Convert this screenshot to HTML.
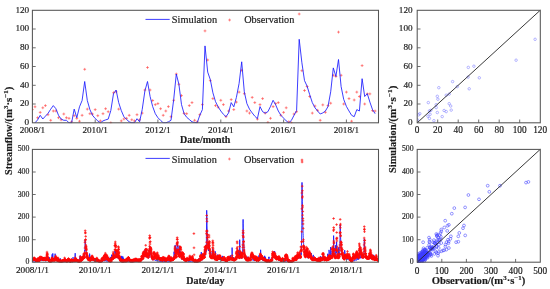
<!DOCTYPE html>
<html><head><meta charset="utf-8"><title>Streamflow simulation and observation</title>
<style>html,body{margin:0;padding:0;background:#fff}svg{display:block}text{font-family:"Liberation Serif",serif;fill:#1c1c1c;stroke:#1c1c1c;stroke-width:0.18px}</style></head>
<body>
<svg width="550" height="289" viewBox="0 0 550 289">
<rect width="550" height="289" fill="#fff"/>
<defs>
<marker id="pl" markerWidth="4" markerHeight="4" refX="2" refY="2" markerUnits="userSpaceOnUse"><path d="M0.6 2H3.4M2 0.6V3.4" stroke="#ff4040" stroke-width="0.6" fill="none"/></marker>
<marker id="pd" markerWidth="4" markerHeight="4" refX="2" refY="2" markerUnits="userSpaceOnUse"><path d="M0.7 2H3.3M2 0.7V3.3" stroke="#ff0a0a" stroke-width="0.7" fill="none"/></marker>
<marker id="c1" markerWidth="5" markerHeight="5" refX="2.5" refY="2.5" markerUnits="userSpaceOnUse"><circle cx="2.5" cy="2.5" r="1.25" stroke="#7070ff" stroke-width="0.5" fill="none"/></marker>
<marker id="c2" markerWidth="5" markerHeight="5" refX="2.5" refY="2.5" markerUnits="userSpaceOnUse"><circle cx="2.5" cy="2.5" r="1.4" stroke="#4040ff" stroke-width="0.55" fill="none"/></marker>
</defs>
<clipPath id="k1"><rect x="32.4" y="10.3" width="346.1" height="112.9"/></clipPath>
<clipPath id="k2"><rect x="32.4" y="149.4" width="346.1" height="113.2"/></clipPath>
<clipPath id="k3"><rect x="417.2" y="10.3" width="123.1" height="112.9"/></clipPath>
<clipPath id="k4"><rect x="417.2" y="149.4" width="123.1" height="113.2"/></clipPath>
<g clip-path="url(#k1)"><polyline points="32.4,109.6 35,106.8 37.6,117.7 40.2,112.4 42.8,107.8 45.4,105.6 48,114.7 50.7,120.3 53.3,111 55.9,111 58.5,117.7 61.1,119.8 63.8,114 66.4,117.7 69,118.3 71.6,121.8 74.2,115.7 76.8,118.3 79.5,121.2 82.1,115.3 84.7,69.3 87.3,109.1 89.9,113.7 92.5,114 95.2,109.6 97.8,115.7 100.4,120.9 103,113.7 105.6,108.7 108.2,111.7 110.8,122.8 113.5,92.8 116.1,91.8 118.7,109.1 121.3,120.9 123.9,119 126.6,118.3 129.2,115.3 131.8,119.8 134.4,120.9 137,114.7 139.6,119.8 142.2,113.1 144.9,90 147.5,67.5 150.1,90 152.7,100.5 155.3,104.6 157.9,103.6 160.6,108.7 163.2,115.3 165.8,111 168.4,106.6 171,116.7 173.7,100.3 176.3,74 178.9,84.3 181.5,95.6 184.1,113.4 186.7,113.7 189.3,105.6 192,102.6 194.6,120.3 197.2,121.8 199.8,114.7 202.4,104.6 205,30.9 207.7,60 210.3,80.6 212.9,98.6 215.5,105.6 218.1,107.2 220.8,100.3 223.4,104.6 226,116.7 228.6,111 231.2,99.6 233.8,109.6 236.4,102.1 239.1,92.1 241.7,70.3 244.3,93.7 246.9,111 249.5,113.1 252.2,97.4 254.8,102.6 257.4,119.1 260,104.6 262.6,98.6 265.2,113.1 267.9,122.4 270.5,118.3 273.1,106.6 275.7,103.6 278.3,102.6 280.9,115.3 283.6,112.4 286.2,107.8 288.8,121.8 291.4,122.8 294,114 296.6,111.7 299.2,14 301.9,70.7 304.5,90.5 307.1,86.5 309.7,96.5 312.3,113.1 315,106 317.6,110.3 320.2,120.3 322.8,104.9 325.4,112.3 328,105.6 330.7,103.2 333.3,75.3 335.9,76.4 338.5,32.1 341.1,75.3 343.7,104 346.4,92.1 349,98.6 351.6,121.2 354.2,100 356.8,92.1 359.4,96.5 362.1,65.6 364.7,104 367.3,93.9 369.9,93.9 372.5,110.6 375.1,111" fill="none" stroke="none" marker-start="url(#pl)" marker-mid="url(#pl)" marker-end="url(#pl)"/>
<polyline points="35,122.8 37.6,119.9 40.2,115.3 42.8,119 45.4,116.2 48,113.4 50.7,109.2 53.3,105.6 55.9,108.7 58.5,115.3 61.1,119 63.8,120.3 66.4,120.3 69,122.8 71.6,122.8 74.2,109.1 76.8,117.7 79.5,106.8 82.1,100.5 84.7,81.5 87.3,100.5 89.9,109.6 92.5,115.3 95.2,118.5 97.8,120.9 100.4,122.8 103,120.9 105.6,119.9 108.2,119.1 110.8,110.6 113.5,93.7 116.1,90 118.7,102.6 121.3,110.6 123.9,116.7 126.6,119.5 129.2,121.8 131.8,122.8 134.4,122.8 137,118.7 139.6,121.8 142.2,109.6 144.9,90.9 147.5,81.5 150.1,96.5 152.7,106.6 155.3,113.7 157.9,117.7 160.6,120.4 163.2,122.8 165.8,122.8 168.4,121.8 171,120.3 173.7,99.6 176.3,74 178.9,84.3 181.5,104.6 184.1,113.7 186.7,117.3 189.3,119.5 192,121.8 194.6,122.5 197.2,122.8 199.8,115.3 202.4,109.6 205,45.9 207.7,72.1 210.3,79.6 212.9,92.8 215.5,101.6 218.1,106.8 220.8,111 223.4,114.3 226,116.7 228.6,112.9 231.2,102.6 233.8,106.8 236.4,97.4 239.1,83.4 241.7,61.8 244.3,91.8 246.9,103.6 249.5,109.2 252.2,112.9 254.8,116.2 257.4,118.7 260,106.6 262.6,111.7 265.2,113.1 267.9,111.7 270.5,106.4 273.1,100.3 275.7,104.9 278.3,111 280.9,115.3 283.6,118.1 286.2,120.9 288.8,122.8 291.4,120.4 294,115.3 296.6,110.6 299.2,39.3 301.9,62.8 304.5,80.6 307.1,86.2 309.7,94.6 312.3,102.6 315,107.8 317.6,111 320.2,114 322.8,112.9 325.4,111 328,106.6 330.7,91.8 333.3,67.9 335.9,76.4 338.5,59.5 341.1,86.5 343.7,99.3 346.4,106.4 349,111 351.6,115.3 354.2,116.7 356.8,109.6 359.4,111 362.1,78.7 364.7,96.5 367.3,93.7 369.9,102.1 372.5,109.6 375.1,113.7" fill="none" stroke="#1a1aff" stroke-width="0.85" stroke-linejoin="round"/></g>
<rect x="32.4" y="10.3" width="346.1" height="112.5" fill="none" stroke="#555" stroke-width="1.05"/>
<text x="29.2" y="125" font-size="9.2" text-anchor="end">0</text>
<text x="29.2" y="106.2" font-size="9.2" text-anchor="end">20</text>
<text x="29.2" y="87.5" font-size="9.2" text-anchor="end">40</text>
<text x="29.2" y="68.7" font-size="9.2" text-anchor="end">60</text>
<text x="29.2" y="50" font-size="9.2" text-anchor="end">80</text>
<text x="29.2" y="31.2" font-size="9.2" text-anchor="end">100</text>
<text x="29.2" y="12.5" font-size="9.2" text-anchor="end">120</text>
<text x="32.4" y="132.6" font-size="9.2" text-anchor="middle" textLength="25.5" lengthAdjust="spacingAndGlyphs">2008/1</text>
<text x="95.2" y="132.6" font-size="9.2" text-anchor="middle" textLength="25.5" lengthAdjust="spacingAndGlyphs">2010/1</text>
<text x="157.9" y="132.6" font-size="9.2" text-anchor="middle" textLength="25.5" lengthAdjust="spacingAndGlyphs">2012/1</text>
<text x="220.8" y="132.6" font-size="9.2" text-anchor="middle" textLength="25.5" lengthAdjust="spacingAndGlyphs">2014/1</text>
<text x="283.6" y="132.6" font-size="9.2" text-anchor="middle" textLength="25.5" lengthAdjust="spacingAndGlyphs">2016/1</text>
<text x="346.4" y="132.6" font-size="9.2" text-anchor="middle" textLength="25.5" lengthAdjust="spacingAndGlyphs">2018/1</text>
<path d="M32.4 104h3.3M32.4 85.3h3.3M32.4 66.5h3.3M32.4 47.8h3.3M32.4 29h3.3M95.2 122.8v-3.3M157.9 122.8v-3.3M220.8 122.8v-3.3M283.6 122.8v-3.3M346.4 122.8v-3.3" stroke="#555" stroke-width="0.85" fill="none"/>
<text x="205.2" y="143.3" font-size="10" text-anchor="middle" textLength="50.5" lengthAdjust="spacingAndGlyphs" font-weight="bold" fill="#000" stroke="#000">Date/month</text>
<path d="M145.5 19.4H169.7" stroke="#1a1aff" stroke-width="0.85"/>
<text x="171.8" y="23.3" font-size="10" textLength="45.4" lengthAdjust="spacingAndGlyphs">Simulation</text>
<path d="M228.2 20H231M229.6 18.6V21.4" stroke="#ff4040" stroke-width="0.6"/>
<text x="244.2" y="23.3" font-size="10" textLength="50.2" lengthAdjust="spacingAndGlyphs">Observation</text>
<g clip-path="url(#k2)"><polyline points="32.4,261.9 32.4,261.9 32.5,261.9 32.6,261.8 32.7,261.8 32.8,261.8 32.9,261.9 33,261.9 33,261.9 33.1,261.9 33.2,261.9 33.3,261.9 33.4,261.9 33.5,261.9 33.6,261.9 33.6,261.9 33.7,261.9 33.8,261.9 33.9,261.9 34,261.9 34.1,261.9 34.2,261.9 34.2,261.9 34.3,261.9 34.4,261.9 34.5,261.9 34.6,261.9 34.7,261.9 34.8,261.9 34.8,261.9 34.9,261.9 35,261.9 35.1,261.9 35.2,261.9 35.3,261.9 35.4,261.7 35.4,261.6 35.5,261.6 35.6,261.6 35.7,261.7 35.8,261.7 35.9,261.7 36,261.7 36,261.7 36.1,261.7 36.2,260.9 36.3,260.4 36.4,260.8 36.5,261.1 36.6,261.3 36.6,261.5 36.7,261.5 36.8,261.6 36.9,261.6 37,261.6 37.1,261.5 37.2,261.4 37.3,261.5 37.3,261.5 37.4,261.2 37.5,261 37.6,261 37.7,261.1 37.8,261.1 37.9,261.1 37.9,261.2 38,261.2 38.1,261.2 38.2,261.2 38.3,261.1 38.4,261.2 38.5,261.1 38.5,260.7 38.6,260.3 38.7,260.4 38.8,260.5 38.9,260.6 39,260.6 39.1,260.7 39.1,260.7 39.2,260.8 39.3,260.8 39.4,260.8 39.5,260.8 39.6,260.9 39.7,260.9 39.7,260.9 39.8,260.9 39.9,260.9 40,260.9 40.1,260.9 40.2,259.7 40.3,258.7 40.3,259.1 40.4,259.3 40.5,259.6 40.6,258.6 40.7,257.7 40.8,257.9 40.9,258 40.9,258.3 41,258.7 41.1,259.1 41.2,259.4 41.3,259.7 41.4,259.9 41.5,260.1 41.5,260.3 41.6,260.4 41.7,260.6 41.8,260.7 41.9,260.8 42,259.6 42.1,258.4 42.2,258.8 42.2,259.6 42.3,260.2 42.4,260.6 42.5,260.9 42.6,261 42.7,260.3 42.8,259.1 42.8,259 42.9,259.4 43,259.8 43.1,260.1 43.2,260.3 43.3,260.5 43.4,260.6 43.4,260.7 43.5,260.8 43.6,260.8 43.7,260.8 43.8,260.9 43.9,260.9 44,259.6 44,258.7 44.1,259.5 44.2,260 44.3,260.2 44.4,260.2 44.5,260.4 44.6,260.5 44.6,260.6 44.7,260.7 44.8,260.8 44.9,260.8 45,260.9 45.1,260.9 45.2,260.9 45.2,260.9 45.3,260.9 45.4,260.9 45.5,261 45.6,261 45.7,261 45.8,261 45.8,261 45.9,261 46,261 46.1,261 46.2,260.9 46.3,259.3 46.4,258.4 46.4,259.4 46.5,259.9 46.6,260.3 46.7,260.5 46.8,260 46.9,259.2 47,258.2 47.1,258 47.1,257.3 47.2,258.4 47.3,259.1 47.4,259.6 47.5,259.9 47.6,260.1 47.7,260.2 47.7,259.7 47.8,259.3 47.9,259.4 48,259.6 48.1,259.7 48.2,259.9 48.3,259.4 48.3,258.8 48.4,258.7 48.5,258.9 48.6,259.1 48.7,259.3 48.8,259.4 48.9,259.6 48.9,259.7 49,259.8 49.1,259.9 49.2,259.9 49.3,260 49.4,258.4 49.5,257.4 49.5,258.5 49.6,259.2 49.7,259.6 49.8,259.8 49.9,260 50,260.1 50.1,260.2 50.1,260.2 50.2,260.2 50.3,260.2 50.4,260.2 50.5,260.2 50.6,260.2 50.7,260.2 50.7,260.2 50.8,260.2 50.9,260.2 51,260.2 51.1,259.3 51.2,258.7 51.3,259.3 51.3,259.6 51.4,259.8 51.5,259.9 51.6,260 51.7,260.1 51.8,259.1 51.9,258.3 52,258.5 52,258.8 52.1,254.4 52.2,258.2 52.3,259.2 52.4,259.4 52.5,259.4 52.6,258.4 52.6,257.9 52.7,255.3 52.8,253.4 52.9,255.4 53,257.1 53.1,258.2 53.2,258.7 53.2,258.9 53.3,259.2 53.4,259.4 53.5,259.5 53.6,259.6 53.7,259.7 53.8,259.8 53.8,259.8 53.9,259.9 54,259.9 54.1,259.9 54.2,259.9 54.3,260 54.4,260 54.4,260 54.5,260 54.6,260 54.7,260.1 54.8,260.1 54.9,260 55,260 55,259.8 55.1,253.7 55.2,257 55.3,259.1 55.4,260.1 55.5,260.1 55.6,260.2 55.6,260.2 55.7,260.2 55.8,260.2 55.9,260.3 56,260.3 56.1,260.3 56.2,259.5 56.2,258.7 56.3,258.8 56.4,259 56.5,259.2 56.6,259.4 56.7,259 56.8,258.6 56.9,258.9 56.9,259.1 57,259.4 57.1,259.5 57.2,259.7 57.3,259.9 57.4,260 57.5,260.1 57.5,260.2 57.6,260.3 57.7,260.4 57.8,260.5 57.9,260.5 58,260.6 58.1,260.7 58.1,260.7 58.2,260.8 58.3,260.8 58.4,260.9 58.5,260.9 58.6,260.9 58.7,260.7 58.7,260.4 58.8,260.5 58.9,260.6 59,260.7 59.1,260.8 59.2,260.8 59.3,260.9 59.3,260.4 59.4,259.9 59.5,260.1 59.6,260.2 59.7,260.4 59.8,260.5 59.9,260.6 59.9,260.7 60,260.8 60.1,259.5 60.2,258.2 60.3,258.8 60.4,259.8 60.5,260.3 60.5,260.7 60.6,260.4 60.7,260.2 60.8,260.7 60.9,261 61,260.3 61.1,260 61.1,260.6 61.2,260.9 61.3,261.1 61.4,261.3 61.5,261.4 61.6,261.4 61.7,261.3 61.8,261.2 61.8,261.3 61.9,261.3 62,261.4 62.1,261.4 62.2,261.3 62.3,261.2 62.4,261.3 62.4,261.3 62.5,261.4 62.6,261.4 62.7,261.4 62.8,261.4 62.9,261.5 63,261.5 63,261.5 63.1,261.5 63.2,261.5 63.3,261.6 63.4,261.6 63.5,261.6 63.6,261.6 63.6,261.6 63.7,261.6 63.8,261.6 63.9,261.6 64,261.6 64.1,261.6 64.2,261.6 64.2,261.6 64.3,261.6 64.4,261.6 64.5,261.6 64.6,261.6 64.7,261.6 64.8,261.6 64.8,261.6 64.9,261.6 65,261.6 65.1,261.6 65.2,261.6 65.3,261.6 65.4,261.6 65.4,261.6 65.5,261 65.6,260.2 65.7,260 65.8,260.2 65.9,260.3 66,260.5 66,260.6 66.1,260.8 66.2,260.9 66.3,261 66.4,260.6 66.5,260.5 66.6,260.8 66.7,261 66.7,261.2 66.8,261.3 66.9,261.4 67,261.5 67.1,261.5 67.2,261.6 67.3,261.4 67.3,261.3 67.4,261.3 67.5,261.4 67.6,261.5 67.7,261.5 67.8,261.6 67.9,261.6 67.9,261.6 68,261.5 68.1,261.4 68.2,261.2 68.3,261 68.4,261 68.5,260.9 68.5,260.9 68.6,261 68.7,261.1 68.8,261.2 68.9,261.3 69,261.4 69.1,261.5 69.1,261.6 69.2,261.6 69.3,261.7 69.4,261.7 69.5,261.7 69.6,261.8 69.7,261.8 69.7,261.8 69.8,261.8 69.9,261.5 70,261.4 70.1,261.6 70.2,261.7 70.3,261.8 70.3,261.8 70.4,261.9 70.5,261.9 70.6,261.9 70.7,261.9 70.8,261.9 70.9,261.9 70.9,261.9 71,261.9 71.1,261.9 71.2,261.6 71.3,261.4 71.4,261.4 71.5,261.4 71.6,261.5 71.6,261.5 71.7,261.5 71.8,261.5 71.9,260.7 72,260.2 72.1,260.6 72.2,260.8 72.2,260.9 72.3,261 72.4,261 72.5,261.1 72.6,261.1 72.7,260.4 72.8,259.8 72.8,259.9 72.9,258.6 73,257.2 73.1,257.6 73.2,258.4 73.3,258.9 73.4,259.3 73.4,259.5 73.5,259.6 73.6,259.6 73.7,259.7 73.8,259.8 73.9,259.9 74,259.9 74,260 74.1,260 74.2,260.1 74.3,260.1 74.4,260.2 74.5,260.2 74.6,260.3 74.6,260.3 74.7,260.2 74.8,259.6 74.9,259.2 75,259.5 75.1,259.7 75.2,253.2 75.2,256.8 75.3,258.9 75.4,260.2 75.5,260.4 75.6,260.5 75.7,260.6 75.8,260 75.9,259.5 75.9,259.7 76,259.6 76.1,259.6 76.2,259 76.3,258.5 76.4,258.9 76.5,259.2 76.5,259.5 76.6,259.7 76.7,259.9 76.8,259.9 76.9,259.8 77,260 77.1,260.1 77.1,260.2 77.2,260.3 77.3,260.4 77.4,260.4 77.5,260.5 77.6,260.5 77.7,260.5 77.7,260.5 77.8,260.5 77.9,260.5 78,260.5 78.1,260.5 78.2,260.5 78.3,260.4 78.3,260.4 78.4,260.4 78.5,260.4 78.6,260.3 78.7,260.3 78.8,260.3 78.9,260.3 78.9,260.2 79,260.2 79.1,260.2 79.2,260.1 79.3,260.1 79.4,259.7 79.5,259.4 79.5,258.5 79.6,257.6 79.7,257.8 79.8,258.1 79.9,258.2 80,258.1 80.1,258 80.1,258.2 80.2,255.5 80.3,258.1 80.4,258.7 80.5,258.8 80.6,258.9 80.7,259 80.8,259 80.8,259.1 80.9,259.1 81,259.2 81.1,259.2 81.2,259.2 81.3,259.2 81.4,259.2 81.4,259.1 81.5,258.9 81.6,259 81.7,259 81.8,259 81.9,259 82,259 82,259 82.1,259 82.2,259 82.3,258.9 82.4,258.6 82.5,258.4 82.6,258.4 82.6,258.4 82.7,258.4 82.8,258.4 82.9,258.4 83,258.4 83.1,258.4 83.2,258.4 83.2,258.4 83.3,258.1 83.4,257.9 83.5,257.9 83.6,258 83.7,258 83.8,258.1 83.8,258.1 83.9,258.1 84,258.2 84.1,258.2 84.2,258.2 84.3,258.2 84.4,257.6 84.4,257.2 84.5,257.7 84.6,257.9 84.7,253.8 84.8,250.2 84.9,251.2 85,248.5 85,245.3 85.1,244.5 85.2,239.7 85.3,241.5 85.4,243.2 85.5,244.7 85.6,245.3 85.7,245.3 85.7,245.5 85.8,246.6 85.9,248.2 86,248.1 86.1,247.9 86.2,249.4 86.3,250.7 86.3,251.8 86.4,252.8 86.5,253.7 86.6,254.4 86.7,255.1 86.8,255.7 86.9,256.2 86.9,256.5 87,255.8 87.1,255.4 87.2,256 87.3,256.6 87.4,257 87.5,257.4 87.5,257.8 87.6,258 87.7,258.3 87.8,258.5 87.9,258.7 88,258.9 88.1,259 88.1,259.1 88.2,259.2 88.3,259.3 88.4,259.4 88.5,259.5 88.6,259.6 88.7,259.7 88.7,259.7 88.8,259.8 88.9,259.8 89,259.9 89.1,260 89.2,260 89.3,260 89.3,260.1 89.4,260.1 89.5,256.7 89.6,253.6 89.7,254.2 89.8,255.1 89.9,255.8 89.9,256.4 90,257 90.1,257.5 90.2,257.9 90.3,258 90.4,258.2 90.5,257.5 90.6,257.2 90.6,258.1 90.7,258.7 90.8,259.1 90.9,259.5 91,259.7 91.1,259.1 91.2,258.5 91.2,258.9 91.3,259.2 91.4,259.5 91.5,259.7 91.6,259.9 91.7,260.1 91.8,259.8 91.8,258.6 91.9,258.1 92,258.6 92.1,258.5 92.2,258.5 92.3,259 92.4,259.3 92.4,259.6 92.5,259.8 92.6,260 92.7,260.2 92.8,260.3 92.9,260.5 93,260.6 93,260.7 93.1,260.8 93.2,260.7 93.3,260.5 93.4,260.6 93.5,260.7 93.6,260.6 93.6,260.6 93.7,260.7 93.8,260.8 93.9,260.9 94,260.9 94.1,261 94.2,261.1 94.2,261.1 94.3,261.2 94.4,261.2 94.5,259.7 94.6,258.3 94.7,258.6 94.8,258.9 94.8,259.3 94.9,259.6 95,259.8 95.1,260 95.2,260.2 95.3,260.4 95.4,260.5 95.5,260.6 95.5,260.7 95.6,260.8 95.7,260.9 95.8,260.6 95.9,260.4 96,260.6 96.1,260.7 96.1,260.8 96.2,260.9 96.3,261 96.4,261.1 96.5,261.2 96.6,261.2 96.7,261.3 96.7,261.3 96.8,260.6 96.9,259.9 97,260.2 97.1,260.4 97.2,260.6 97.3,260.7 97.3,260.9 97.4,261 97.5,261.1 97.6,261.2 97.7,261.2 97.8,261.3 97.9,261.4 97.9,261.4 98,261.5 98.1,261.5 98.2,261.6 98.3,261.6 98.4,261.6 98.5,261.6 98.5,261.7 98.6,261.7 98.7,261.7 98.8,261.7 98.9,261.8 99,261.8 99.1,261.8 99.1,261.8 99.2,261.8 99.3,261.8 99.4,261.8 99.5,261.8 99.6,261.9 99.7,261.5 99.7,261.2 99.8,261.3 99.9,261.4 100,261.4 100.1,261.5 100.2,261.5 100.3,261.2 100.4,260.8 100.4,260.8 100.5,260.9 100.6,261 100.7,261.1 100.8,261.2 100.9,261.3 101,261.3 101,261.4 101.1,261.4 101.2,261.5 101.3,261.5 101.4,261.4 101.5,261.2 101.6,261.3 101.6,261.3 101.7,261.4 101.8,261.4 101.9,261.2 102,261 102.1,261.1 102.2,261.2 102.2,261.3 102.3,261.3 102.4,261.4 102.5,261.4 102.6,261.5 102.7,260.9 102.8,260.5 102.8,260.4 102.9,260.3 103,260.1 103.1,259.9 103.2,260 103.3,260.2 103.4,260.4 103.4,260.5 103.5,260.7 103.6,260.8 103.7,260.6 103.8,260.5 103.9,260.8 104,261 104,261.1 104.1,261.2 104.2,260.8 104.3,260.4 104.4,260.6 104.5,260.7 104.6,260.8 104.6,260.8 104.7,260.9 104.8,261 104.9,261 105,261.1 105.1,261.1 105.2,260.6 105.3,259.9 105.3,258.9 105.4,259.3 105.5,259.6 105.6,259.9 105.7,260.2 105.8,260.4 105.9,260.6 105.9,260.8 106,260.9 106.1,261.1 106.2,260.7 106.3,260.9 106.4,261 106.5,261 106.5,261.1 106.6,261.2 106.7,261.2 106.8,261.3 106.9,261 107,260.7 107.1,260.8 107.1,260.9 107.2,261 107.3,261.1 107.4,261.1 107.5,261.2 107.6,261.2 107.7,261.3 107.7,261.3 107.8,261.3 107.9,261.1 108,260.9 108.1,261 108.2,261 108.3,261.1 108.3,261.1 108.4,261.1 108.5,261.1 108.6,261 108.7,260.8 108.8,260.9 108.9,260.9 108.9,260.9 109,260.9 109.1,260.5 109.2,260.1 109.3,260.2 109.4,260.2 109.5,259.3 109.5,258.5 109.6,258.7 109.7,258.9 109.8,259 109.9,259.2 110,259.3 110.1,259.2 110.2,257.7 110.2,256.9 110.3,257.1 110.4,257 110.5,257.6 110.6,258 110.7,258.3 110.8,258.6 110.8,258.7 110.9,258.9 111,259 111.1,259.1 111.2,259.1 111.3,259.2 111.4,259.2 111.4,259.3 111.5,259.3 111.6,256.9 111.7,254.7 111.8,255.1 111.9,255.5 112,255.8 112,256.1 112.1,255.8 112.2,255.4 112.3,255.8 112.4,256 112.5,256.3 112.6,256.5 112.6,256.7 112.7,256.9 112.8,257 112.9,257.2 113,257.3 113.1,257.4 113.2,257.5 113.2,256 113.3,254.7 113.4,255.2 113.5,255.6 113.6,256 113.7,256.3 113.8,256.6 113.8,256.8 113.9,257 114,257.2 114.1,257.4 114.2,257.5 114.3,257.6 114.4,257.7 114.4,257.8 114.5,257.9 114.6,258 114.7,258 114.8,258.1 114.9,254.2 115,250.9 115.1,252 115.1,253 115.2,253.4 115.3,251 115.4,251.9 115.5,252.7 115.6,253.5 115.7,254.2 115.7,254.8 115.8,255.4 115.9,255.9 116,256.4 116.1,256.8 116.2,257.2 116.3,257.5 116.3,257.9 116.4,258 116.5,257 116.6,256.2 116.7,256.5 116.8,256.9 116.9,257.2 116.9,257.4 117,257.6 117.1,257.8 117.2,257.2 117.3,255 117.4,254.1 117.5,254.9 117.5,255.5 117.6,256.1 117.7,256.6 117.8,257.1 117.9,257.4 118,257.8 118.1,258 118.1,258.3 118.2,257.2 118.3,255.5 118.4,256.1 118.5,256.7 118.6,257.2 118.7,257.7 118.7,258.1 118.8,258.5 118.9,258.4 119,258.6 119.1,258.8 119.2,259 119.3,259.1 119.4,258.6 119.4,258.2 119.5,258.5 119.6,258.8 119.7,259 119.8,259.1 119.9,259.3 120,259.4 120,259.6 120.1,259.7 120.2,259.8 120.3,259.8 120.4,259.9 120.5,260 120.6,258.5 120.6,257.3 120.7,257.7 120.8,258.1 120.9,258.4 121,258.7 121.1,258.9 121.2,258.8 121.2,258.8 121.3,259.2 121.4,259.4 121.5,259.6 121.6,257.3 121.7,255.9 121.8,257.7 121.8,258.7 121.9,258.1 122,257.3 122.1,257.9 122.2,258.4 122.3,258.8 122.4,259.1 122.4,259.4 122.5,259.6 122.6,259.8 122.7,258.1 122.8,256.4 122.9,257.3 123,257.5 123,257.3 123.1,258.1 123.2,258.7 123.3,259.1 123.4,258.6 123.5,258.2 123.6,258.6 123.6,259 123.7,259.3 123.8,259.6 123.9,259.4 124,259.2 124.1,259.4 124.2,259.4 124.3,259.4 124.3,259.7 124.4,259.9 124.5,260.1 124.6,260.3 124.7,260.5 124.8,260.6 124.9,260.7 124.9,260.8 125,260.6 125.1,260.5 125.2,260.6 125.3,260.8 125.4,260.9 125.5,261 125.5,261 125.6,260.7 125.7,260.6 125.8,260.9 125.9,261 126,261.2 126.1,261.3 126.1,261.3 126.2,261.4 126.3,261 126.4,260.7 126.5,260.4 126.6,260.2 126.7,260.4 126.7,260.6 126.8,260.7 126.9,260.8 127,261 127.1,261.1 127.2,261.2 127.3,261.2 127.3,261.3 127.4,261.3 127.5,261.3 127.6,261.1 127.7,260.9 127.8,261.1 127.9,261.2 127.9,261.3 128,261.3 128.1,261.2 128.2,261.1 128.3,261.1 128.4,261.1 128.5,261.2 128.5,261.1 128.6,261.1 128.7,261.2 128.8,261.3 128.9,261.3 129,261.4 129.1,261.5 129.2,261.5 129.2,261.6 129.3,261.6 129.4,261.6 129.5,261.7 129.6,261.7 129.7,261.7 129.8,261.7 129.8,261.8 129.9,261.8 130,261.8 130.1,261.8 130.2,261.8 130.3,261.8 130.4,261.8 130.4,261.8 130.5,261.8 130.6,261.9 130.7,261.9 130.8,261.9 130.9,261.9 131,261.8 131,261.9 131.1,261.9 131.2,261.9 131.3,261.9 131.4,261.9 131.5,261.9 131.6,261.8 131.6,261.8 131.7,261.8 131.8,261.8 131.9,261.9 132,261.9 132.1,261.9 132.2,261.9 132.2,261.9 132.3,261.6 132.4,261.4 132.5,261.4 132.6,261.5 132.7,261.6 132.8,261.6 132.8,261.6 132.9,261.7 133,261.7 133.1,261.7 133.2,261.6 133.3,261.6 133.4,261.6 133.4,261.5 133.5,261.2 133.6,261 133.7,261.2 133.8,261.3 133.9,261.3 134,261.4 134.1,261.4 134.1,261.4 134.2,261.5 134.3,261.5 134.4,261.5 134.5,261.4 134.6,261.4 134.7,261.4 134.7,261.4 134.8,261.5 134.9,261.5 135,261.5 135.1,261.3 135.2,261.1 135.3,261.2 135.3,261.2 135.4,261.3 135.5,261.3 135.6,261.4 135.7,261.4 135.8,261.4 135.9,261.4 135.9,261.4 136,261.5 136.1,261.2 136.2,261 136.3,261 136.4,260.9 136.5,261 136.5,261 136.6,261.1 136.7,261.1 136.8,261.2 136.9,261.2 137,261.3 137.1,261.3 137.1,260.8 137.2,260.6 137.3,260.8 137.4,261 137.5,261.2 137.6,261.3 137.7,261.2 137.7,261.1 137.8,261.3 137.9,261.4 138,261.5 138.1,261.5 138.2,261.6 138.3,261.6 138.3,261.5 138.4,261.5 138.5,261.4 138.6,261.2 138.7,261.2 138.8,261.3 138.9,261.1 139,261 139,261.1 139.1,261.2 139.2,261.3 139.3,261.4 139.4,261.4 139.5,261.5 139.6,261.5 139.6,261.5 139.7,261.5 139.8,261.5 139.9,261.4 140,261.1 140.1,260.8 140.2,260.6 140.2,260.6 140.3,260.7 140.4,260.7 140.5,260.7 140.6,260.7 140.7,260.3 140.8,259.8 140.8,259.9 140.9,260 141,260.1 141.1,260.2 141.2,260.2 141.3,260.2 141.4,260.3 141.4,260.3 141.5,260.3 141.6,260.3 141.7,260.3 141.8,259.3 141.9,258.4 142,258.6 142,258.8 142.1,259 142.2,259.1 142.3,259.2 142.4,259.3 142.5,259.3 142.6,259.4 142.6,259.4 142.7,259.4 142.8,259.4 142.9,258.9 143,258.4 143.1,256.3 143.2,254.5 143.2,255.1 143.3,255.4 143.4,255.8 143.5,256.1 143.6,256.5 143.7,255.9 143.8,255.4 143.9,255.8 143.9,256.2 144,254.9 144.1,253.6 144.2,254.1 144.3,254.6 144.4,255 144.5,255.4 144.5,255.7 144.6,252.8 144.7,250.2 144.8,249.9 144.9,249.7 145,250.8 145.1,251.7 145.1,252.5 145.2,253.3 145.3,253.9 145.4,254.5 145.5,255 145.6,255.4 145.7,254.6 145.7,252.1 145.8,253.1 145.9,254 146,254.7 146.1,254.8 146.2,253.1 146.3,250.6 146.3,249.3 146.4,251.9 146.5,253.6 146.6,254.8 146.7,255.6 146.8,256.2 146.9,256.6 146.9,256.9 147,257.2 147.1,257.1 147.2,257 147.3,257.3 147.4,257.4 147.5,257.6 147.5,257.7 147.6,257.7 147.7,257.7 147.8,257.8 147.9,257.8 148,257.9 148.1,258 148.1,258 148.2,258.1 148.3,258.1 148.4,258.2 148.5,258.2 148.6,258.2 148.7,257.9 148.8,257.6 148.8,256 148.9,254.6 149,255.2 149.1,255.7 149.2,256.1 149.3,256.5 149.4,255.3 149.4,253.7 149.5,251.7 149.6,249.4 149.7,246.5 149.8,247.6 149.9,248.6 150,249.5 150,250.4 150.1,251.2 150.2,251.9 150.3,252.6 150.4,253.2 150.5,253.8 150.6,254.4 150.6,252.8 150.7,249.9 150.8,250.4 150.9,251.2 151,254.2 151.1,256 151.2,257.1 151.2,257.4 151.3,257.7 151.4,257.9 151.5,258.1 151.6,258.4 151.7,258.6 151.8,258.7 151.8,258.9 151.9,259.1 152,259.2 152.1,259.4 152.2,259.5 152.3,259.6 152.4,259.7 152.4,259.8 152.5,259.9 152.6,259.9 152.7,259.9 152.8,260 152.9,260 153,260 153,260.1 153.1,259 153.2,258.1 153.3,258.1 153.4,258.1 153.5,258.5 153.6,258.8 153.7,258.1 153.7,257.6 153.8,258 153.9,258.4 154,257.9 154.1,257.5 154.2,258 154.3,258.4 154.3,258.8 154.4,259.1 154.5,259.3 154.6,259.6 154.7,259.8 154.8,259.9 154.9,260.1 154.9,260.2 155,260.3 155.1,260.4 155.2,260.5 155.3,260.5 155.4,260.3 155.5,260.1 155.5,260.2 155.6,260.3 155.7,260.4 155.8,260.4 155.9,260.4 156,260.5 156.1,260.6 156.1,260.7 156.2,260.7 156.3,260.8 156.4,260.8 156.5,260.9 156.6,260.9 156.7,261 156.7,261 156.8,261 156.9,261.1 157,260.3 157.1,259.6 157.2,259.4 157.3,259.2 157.3,259.5 157.4,259.8 157.5,260 157.6,260.2 157.7,260.4 157.8,260.5 157.9,260.6 157.9,260.8 158,260.8 158.1,260.9 158.2,260.9 158.3,260.8 158.4,260.9 158.5,261 158.6,261.1 158.6,261.1 158.7,261.2 158.8,261.2 158.9,261.3 159,261.3 159.1,261.3 159.2,261.4 159.2,261.4 159.3,261.4 159.4,261.4 159.5,261.5 159.6,261.5 159.7,261.5 159.8,261.5 159.8,261.4 159.9,261.4 160,261.4 160.1,261.4 160.2,261.5 160.3,261.5 160.4,261.5 160.4,261.6 160.5,261.6 160.6,261.6 160.7,261.6 160.8,261.6 160.9,261.7 161,261.4 161,261.2 161.1,261.3 161.2,261.3 161.3,261.4 161.4,261.5 161.5,261.4 161.6,261.4 161.6,261.5 161.7,261.5 161.8,261.6 161.9,261.6 162,261.6 162.1,261.6 162.2,261.7 162.2,261.7 162.3,261.8 162.4,261.8 162.5,261.8 162.6,261.8 162.7,261.8 162.8,261.8 162.9,261.6 162.9,261.5 163,261.6 163.1,261.7 163.2,261.7 163.3,261.8 163.4,261.8 163.5,261.7 163.5,261.7 163.6,261.7 163.7,261.8 163.8,261.8 163.9,261.8 164,261.8 164.1,261.8 164.1,261.8 164.2,261.9 164.3,261.9 164.4,261.4 164.5,260.9 164.6,261.1 164.7,261.4 164.7,261.6 164.8,261.7 164.9,261.8 165,261.9 165.1,261.9 165.2,261.9 165.3,261.9 165.3,261.9 165.4,261.9 165.5,261.8 165.6,261.4 165.7,261.2 165.8,261.3 165.9,261.4 165.9,261.5 166,261.5 166.1,261.6 166.2,261.6 166.3,261.7 166.4,261.7 166.5,261.7 166.5,261.7 166.6,261.7 166.7,261.8 166.8,261.8 166.9,261.8 167,261.7 167.1,261.7 167.1,261.7 167.2,261.7 167.3,261.8 167.4,261.8 167.5,261.8 167.6,261.8 167.7,261.8 167.8,261.8 167.8,261.8 167.9,261.8 168,261.8 168.1,261.8 168.2,261.8 168.3,261.8 168.4,261.8 168.4,261.8 168.5,261.8 168.6,261.8 168.7,261.6 168.8,261.4 168.9,261.5 169,261.5 169,261.6 169.1,261.5 169.2,261.3 169.3,261.3 169.4,261.4 169.5,261.4 169.6,261.5 169.6,261.5 169.7,261.5 169.8,261.4 169.9,261.5 170,261.6 170.1,261.6 170.2,261.6 170.2,261.6 170.3,261.6 170.4,261.5 170.5,261.4 170.6,261.4 170.7,261.4 170.8,261.4 170.8,261.4 170.9,261.4 171,261.4 171.1,261.4 171.2,261 171.3,260.7 171.4,260.7 171.4,260.7 171.5,260.7 171.6,260.1 171.7,259.8 171.8,260 171.9,260.2 172,260.2 172,260.2 172.1,260.2 172.2,260.2 172.3,260.2 172.4,260.1 172.5,260.1 172.6,260 172.7,260 172.7,259.9 172.8,259.8 172.9,259.8 173,259.7 173.1,259.6 173.2,258.8 173.3,257.9 173.3,257.9 173.4,258 173.5,258 173.6,258.1 173.7,257.4 173.8,256.7 173.9,256.8 173.9,254.1 174,251.7 174.1,252.2 174.2,252.7 174.3,253.2 174.4,253.8 174.5,254.2 174.5,254.6 174.6,255 174.7,255.2 174.8,255.4 174.9,250.5 175,245.3 175.1,245.3 175.1,245.3 175.2,245.8 175.3,247.1 175.4,246.6 175.5,245.7 175.6,247.5 175.7,249.8 175.7,251.5 175.8,249.6 175.9,247.7 176,249.2 176.1,250.4 176.2,251.4 176.3,252.2 176.3,253 176.4,253.7 176.5,252.7 176.6,251.8 176.7,250.9 176.8,250.2 176.9,251.2 176.9,251.7 177,249.3 177.1,246.4 177.2,242.8 177.3,244.2 177.4,245.5 177.5,246.6 177.6,245.3 177.6,245.3 177.7,245.3 177.8,245.3 177.9,245.3 178,246.3 178.1,248.3 178.2,250 178.2,251.3 178.3,252.3 178.4,253.1 178.5,253.8 178.6,254.4 178.7,254.9 178.8,255.3 178.8,255.7 178.9,256 179,256.3 179.1,256.5 179.2,251 179.3,245.8 179.4,248.4 179.4,252 179.5,254.2 179.6,255.6 179.7,256.5 179.8,255.9 179.9,253.8 180,251 180,252.1 180.1,253 180.2,253.9 180.3,254.7 180.4,255.4 180.5,256 180.6,256.5 180.6,254.1 180.7,253.1 180.8,254.2 180.9,255.1 181,255.9 181.1,256.6 181.2,257.1 181.2,257.6 181.3,258 181.4,258.3 181.5,258.6 181.6,258.8 181.7,259 181.8,259.2 181.8,259.4 181.9,259.5 182,259.6 182.1,256.1 182.2,253.1 182.3,254.9 182.4,256.8 182.5,257.5 182.5,257.8 182.6,258.2 182.7,258.6 182.8,258.9 182.9,258.9 183,258.9 183.1,259.2 183.1,259.4 183.2,258.7 183.3,258.1 183.4,258.5 183.5,258.9 183.6,259.2 183.7,259.5 183.7,259.6 183.8,259.7 183.9,259.8 184,260 184.1,260.1 184.2,260.3 184.3,260.4 184.3,260.5 184.4,260.5 184.5,260.6 184.6,260.7 184.7,260.7 184.8,260.8 184.9,260.8 184.9,260.7 185,260.6 185.1,260.7 185.2,260.7 185.3,260.8 185.4,260.8 185.5,260.9 185.5,260.9 185.6,261 185.7,260.6 185.8,260.3 185.9,260.4 186,259.5 186.1,258.6 186.1,259 186.2,259.3 186.3,259.5 186.4,259.5 186.5,259.4 186.6,259.7 186.7,259.9 186.7,260.1 186.8,260.3 186.9,260.4 187,260.6 187.1,260.6 187.2,260.6 187.3,260.7 187.4,260.8 187.4,260.9 187.5,261 187.6,261 187.7,261.1 187.8,261.1 187.9,261.2 188,261.2 188,261.3 188.1,261.3 188.2,261.3 188.3,261.3 188.4,261.4 188.5,261.4 188.6,261.4 188.6,261.4 188.7,261.4 188.8,261.4 188.9,261.4 189,261.3 189.1,261.4 189.2,261.4 189.2,261.4 189.3,261.5 189.4,261.5 189.5,261.5 189.6,261.5 189.7,261.5 189.8,261.6 189.8,260.9 189.9,260.6 190,261 190.1,261.2 190.2,261.4 190.3,261.5 190.4,261.6 190.4,261.6 190.5,261.6 190.6,261.7 190.7,261.7 190.8,261.6 190.9,261.6 191,261.5 191,261.4 191.1,261.5 191.2,261.6 191.3,261.6 191.4,261.7 191.5,261.7 191.6,261.7 191.6,261.7 191.7,261.7 191.8,261.7 191.9,261.7 192,261.8 192.1,261.8 192.2,261.8 192.3,261.8 192.3,261.8 192.4,261.8 192.5,261.7 192.6,261.8 192.7,261.8 192.8,261.8 192.9,261.8 192.9,261.8 193,261.8 193.1,261.9 193.2,261.6 193.3,261.3 193.4,261.4 193.5,261.5 193.5,261.5 193.6,261.6 193.7,261.6 193.8,261.6 193.9,261.7 194,261.7 194.1,261.7 194.1,261.7 194.2,261.8 194.3,261.8 194.4,261.8 194.5,261.8 194.6,261.8 194.7,261.8 194.7,261.8 194.8,261.9 194.9,261.9 195,261.9 195.1,261.9 195.2,261.8 195.3,261.8 195.3,261.8 195.4,261.8 195.5,261.9 195.6,261.9 195.7,261.9 195.8,261.6 195.9,261.5 195.9,261.4 196,261.2 196.1,261.2 196.2,261.3 196.3,261.4 196.4,261.4 196.5,261.5 196.5,261.5 196.6,261.6 196.7,261.6 196.8,261.6 196.9,261.6 197,261.6 197.1,261.6 197.2,261.7 197.2,261.7 197.3,261.7 197.4,261.7 197.5,261.7 197.6,261.3 197.7,261 197.8,261 197.8,260.5 197.9,259.9 198,259.8 198.1,259.9 198.2,259.8 198.3,259.4 198.4,259.2 198.4,259.5 198.5,260 198.6,260.4 198.7,260.7 198.8,260.6 198.9,260.4 199,260.5 199,259.4 199.1,258.1 199.2,258.2 199.3,258.5 199.4,258.7 199.5,258.9 199.6,259.1 199.6,259.3 199.7,259.5 199.8,259.6 199.9,259.7 200,259.8 200.1,259.9 200.2,260 200.2,260.1 200.3,259.5 200.4,258.5 200.5,258.2 200.6,258.6 200.7,258.9 200.8,258.7 200.8,258.6 200.9,258.8 201,259.1 201.1,258.1 201.2,257.6 201.3,252.1 201.4,256.1 201.5,258.5 201.5,259.6 201.6,259.8 201.7,259.9 201.8,260 201.9,260.1 202,260.1 202.1,260.1 202.1,260 202.2,260 202.3,259.9 202.4,258.5 202.5,257.2 202.6,257.3 202.7,257.4 202.7,257.4 202.8,257.4 202.9,257.5 203,257.5 203.1,257.5 203.2,257.5 203.3,256.6 203.3,255.8 203.4,256.1 203.5,256.3 203.6,256.5 203.7,256.8 203.8,256.9 203.9,257.1 203.9,257.3 204,257.4 204.1,257.4 204.2,257.4 204.3,257.5 204.4,257.7 204.5,257.8 204.5,257.8 204.6,253.5 204.7,249.7 204.8,250.9 204.9,251.9 205,252.6 205.1,253.1 205.1,253.8 205.2,254.5 205.3,254.9 205.4,255.3 205.5,250.4 205.6,245.3 205.7,245.3 205.7,245.8 205.8,247.9 205.9,250.5 206,252.4 206.1,252.4 206.2,249.8 206.3,246.5 206.4,242.2 206.4,236.8 206.5,230 206.6,221.3 206.7,210.3 206.8,214.6 206.9,218.4 207,221.9 207,225.1 207.1,228 207.2,230.6 207.3,233 207.4,235.1 207.5,237.1 207.6,238.9 207.6,240.6 207.7,242.1 207.8,243.4 207.9,244.7 208,245.9 208.1,246.9 208.2,247.9 208.2,248.8 208.3,249.6 208.4,250.3 208.5,251 208.6,250.5 208.7,249.8 208.8,250.9 208.8,250.8 208.9,247 209,241.9 209.1,243.9 209.2,245.7 209.3,247.2 209.4,248.6 209.4,249.9 209.5,251 209.6,252 209.7,252.8 209.8,253.6 209.9,254.4 210,255 210,255.6 210.1,256.1 210.2,256.6 210.3,257 210.4,257.4 210.5,257.7 210.6,257.9 210.6,258 210.7,254.2 210.8,251.9 210.9,254.4 211,255.9 211.1,256.8 211.2,257.4 211.3,256.2 211.3,255.1 211.4,255.6 211.5,256 211.6,256.3 211.7,256.5 211.8,256.8 211.9,257 211.9,257.1 212,256.3 212.1,255.6 212.2,255.9 212.3,256.2 212.4,256.5 212.5,256.7 212.5,256.5 212.6,254.6 212.7,252.1 212.8,248.7 212.9,250 213,251.2 213.1,252.2 213.1,253.2 213.2,254 213.3,254.7 213.4,255.4 213.5,256 213.6,256.5 213.7,257 213.7,257.4 213.8,257.8 213.9,258.1 214,258.5 214.1,258.6 214.2,258.6 214.3,258.7 214.3,258.8 214.4,258.3 214.5,258.1 214.6,258.5 214.7,258.7 214.8,258.9 214.9,259 214.9,259.1 215,259.1 215.1,259.2 215.2,254.4 215.3,251.4 215.4,254.4 215.5,255.8 215.5,256.6 215.6,257.1 215.7,257.5 215.8,257.9 215.9,258.3 216,258.5 216.1,258.7 216.2,258.9 216.2,259 216.3,259.1 216.4,259.2 216.5,259.3 216.6,259.4 216.7,259.4 216.8,258.8 216.8,258.4 216.9,258.9 217,259.2 217.1,259.4 217.2,259.6 217.3,259.6 217.4,258.6 217.4,257.3 217.5,256.6 217.6,256.4 217.7,255.2 217.8,254.5 217.9,256 218,257 218,257.7 218.1,258.2 218.2,258.6 218.3,258.3 218.4,258.1 218.5,258.4 218.6,258.7 218.6,258.9 218.7,259.1 218.8,259.3 218.9,259.4 219,259.6 219.1,259.7 219.2,259.8 219.2,259.9 219.3,259.9 219.4,260 219.5,260 219.6,258.9 219.7,257.9 219.8,258.2 219.8,258.5 219.9,258.7 220,257.2 220.1,255.9 220.2,256.5 220.3,257 220.4,257.4 220.4,257.8 220.5,258.2 220.6,258.5 220.7,258.8 220.8,259 220.9,259.2 221,259.4 221.1,259.5 221.1,259.7 221.2,259.8 221.3,259.9 221.4,260 221.5,260.1 221.6,260.2 221.7,260.3 221.7,260.3 221.8,258.5 221.9,256.7 222,257 222.1,257.6 222.2,258.1 222.3,258.4 222.3,258.8 222.4,257.4 222.5,255.9 222.6,256.1 222.7,256.9 222.8,258.2 222.9,259 222.9,259.5 223,259.8 223.1,260.1 223.2,260.3 223.3,260.4 223.4,260.3 223.5,260.3 223.5,260.4 223.6,260.5 223.7,260.6 223.8,260.6 223.9,260.7 224,259.3 224.1,258.5 224.1,259.4 224.2,259.9 224.3,260.3 224.4,260.5 224.5,260.7 224.6,260.8 224.7,260.9 224.7,260.9 224.8,261 224.9,261 225,261 225.1,261 225.2,261.1 225.3,261.1 225.3,261.1 225.4,261.1 225.5,261.1 225.6,261.1 225.7,261.1 225.8,261.1 225.9,260.9 226,260.4 226,260.2 226.1,260.5 226.2,260.7 226.3,260.8 226.4,260.9 226.5,260.9 226.6,261 226.6,261 226.7,261 226.8,261 226.9,261 227,261 227.1,261 227.2,260.9 227.2,260.9 227.3,260.9 227.4,260.9 227.5,260.9 227.6,260.9 227.7,260.4 227.8,260.1 227.8,259.9 227.9,259.7 228,259.8 228.1,259.9 228.2,260 228.3,260.1 228.4,260.2 228.4,260.2 228.5,260.3 228.6,260.3 228.7,260.4 228.8,260.4 228.9,260.4 229,260.4 229,260.4 229.1,259.9 229.2,259.5 229.3,259.6 229.4,259.6 229.5,259.7 229.6,259.7 229.6,259.7 229.7,259.8 229.8,259.8 229.9,259.8 230,259.8 230.1,259.8 230.2,259.8 230.2,257.4 230.3,255.2 230.4,255.5 230.5,255.7 230.6,256.1 230.7,256.5 230.8,256.8 230.9,257.1 230.9,257.4 231,257.6 231.1,257.8 231.2,258 231.3,258.2 231.4,258.4 231.5,258.4 231.5,258.4 231.6,258.5 231.7,258.7 231.8,258.8 231.9,258.9 232,259 232.1,258 232.1,247.6 232.2,253.4 232.3,256.9 232.4,258.3 232.5,257.3 232.6,257.6 232.7,257.9 232.7,257.6 232.8,257.4 232.9,258 233,258.4 233.1,258.7 233.2,258.1 233.3,257.6 233.3,257.9 233.4,258.1 233.5,258.4 233.6,257.7 233.7,257.4 233.8,258 233.9,258.5 233.9,258.8 234,258.9 234.1,259 234.2,259.1 234.3,259.2 234.4,259.3 234.5,259.3 234.5,259.3 234.6,259.4 234.7,259.4 234.8,258.9 234.9,258.5 235,258.6 235.1,258.3 235.1,258 235.2,258.1 235.3,258.3 235.4,258.4 235.5,258.5 235.6,258.5 235.7,258.5 235.8,258.6 235.8,258.6 235.9,258.7 236,258.7 236.1,258.7 236.2,258.7 236.3,258.7 236.4,258.7 236.4,258.7 236.5,258.7 236.6,258.6 236.7,258.6 236.8,258.6 236.9,258.6 237,257.9 237,255.2 237.1,251 237.2,252.7 237.3,254.2 237.4,255.4 237.5,256.4 237.6,257.2 237.6,253.2 237.7,251.5 237.8,253.8 237.9,255.2 238,252.5 238.1,249.9 238.2,251.1 238.2,252.1 238.3,252.9 238.4,253.6 238.5,254.2 238.6,254.8 238.7,255.2 238.8,253.6 238.8,252.1 238.9,252.8 239,253.5 239.1,254.1 239.2,254.5 239.3,254.9 239.4,255.3 239.4,255.7 239.5,256 239.6,255.8 239.7,239.7 239.8,247.1 239.9,252.1 240,255.5 240,257.3 240.1,257.4 240.2,257.5 240.3,257.6 240.4,257.7 240.5,257.8 240.6,257.9 240.7,257.9 240.7,258 240.8,258 240.9,258.1 241,258.1 241.1,258.1 241.2,258.2 241.3,258.2 241.3,258.2 241.4,258.2 241.5,258.2 241.6,258.3 241.7,258.3 241.8,258.3 241.9,258.3 241.9,258.3 242,254.9 242.1,252.8 242.2,253.6 242.3,253.8 242.4,254.7 242.5,255.3 242.5,254.5 242.6,252 242.7,248.6 242.8,244.1 242.9,238 243,230 243.1,219.4 243.1,223.5 243.2,227.2 243.3,230.5 243.4,233.5 243.5,236.1 243.6,238.4 243.7,240.5 243.7,242.4 243.8,244.1 243.9,245.6 244,246.9 244.1,248.1 244.2,249.2 244.3,250.2 244.3,251.1 244.4,251.9 244.5,252.6 244.6,253.3 244.7,253.9 244.8,254.4 244.9,254.9 245,255.4 245,255.8 245.1,256.2 245.2,256.5 245.3,256.8 245.4,257.1 245.5,257.4 245.6,257.7 245.6,257.9 245.7,258.1 245.8,258.3 245.9,258.5 246,258.7 246.1,258.8 246.2,259 246.2,259.1 246.3,259.3 246.4,259.3 246.5,259.4 246.6,259.4 246.7,259.5 246.8,259.5 246.8,258.7 246.9,258 247,257.4 247.1,256.6 247.2,257 247.3,257.6 247.4,258 247.4,258.4 247.5,258.6 247.6,258.8 247.7,259 247.8,259.2 247.9,258.2 248,257.4 248,257.7 248.1,258 248.2,258.3 248.3,257.5 248.4,256.9 248.5,257.4 248.6,257.8 248.6,258.2 248.7,258.5 248.8,258.7 248.9,258.9 249,259.1 249.1,259.2 249.2,259.4 249.2,259.5 249.3,259.4 249.4,259.4 249.5,259.5 249.6,259.6 249.7,259.8 249.8,259.9 249.9,260 249.9,260 250,260.1 250.1,260.2 250.2,260.2 250.3,258.7 250.4,257.7 250.5,257.9 250.5,257.7 250.6,258.4 250.7,256.7 250.8,254.7 250.9,255.1 251,255.2 251.1,254.9 251.1,255.4 251.2,256.4 251.3,256.4 251.4,256.3 251.5,257 251.6,257.6 251.7,256.6 251.7,255.5 251.8,256.3 251.9,257.1 252,257.5 252.1,258.2 252.2,258.4 252.3,258.6 252.3,259 252.4,259.3 252.5,259.5 252.6,259.7 252.7,259.8 252.8,260 252.9,260.1 252.9,260.3 253,260.4 253.1,260.2 253.2,259.8 253.3,259.7 253.4,259.8 253.5,260 253.5,260.1 253.6,260.3 253.7,260.4 253.8,260.5 253.9,260.5 254,260.6 254.1,260.7 254.1,260.7 254.2,260.8 254.3,260.8 254.4,260.9 254.5,260.9 254.6,259.7 254.7,258.6 254.8,258.9 254.8,259.2 254.9,259.5 255,259.5 255.1,259.5 255.2,259.7 255.3,259.9 255.4,260.1 255.4,260.3 255.5,260.4 255.6,260.5 255.7,260.6 255.8,260.7 255.9,260.8 256,260.9 256,259.5 256.1,258.1 256.2,258.3 256.3,258.6 256.4,258.5 256.5,258.3 256.6,258.4 256.6,258.4 256.7,258.4 256.8,258.5 256.9,258.5 257,258.5 257.1,258.6 257.2,258.6 257.2,258.4 257.3,258.4 257.4,258.5 257.5,258.7 257.6,259 257.7,259.1 257.8,259.3 257.8,259.4 257.9,259.5 258,259.6 258.1,259.7 258.2,259.8 258.3,259.8 258.4,259.9 258.4,259.9 258.5,260 258.6,258.7 258.7,257.5 258.8,256.5 258.9,255.6 259,256 259,256.4 259.1,256.7 259.2,257 259.3,255.7 259.4,254.7 259.5,255.7 259.6,256.5 259.7,257.3 259.7,257.8 259.8,258.2 259.9,258.5 260,258.7 260.1,258.9 260.2,257.9 260.3,257 260.3,257.4 260.4,257.5 260.5,254.5 260.6,249.8 260.7,251.8 260.8,253.4 260.9,254.7 260.9,255.8 261,256.7 261.1,257.4 261.2,258.1 261.3,258.6 261.4,259 261.5,259 261.5,259.3 261.6,257.9 261.7,257.1 261.8,258.3 261.9,259 262,259.5 262.1,259.8 262.1,259.7 262.2,259.7 262.3,259.8 262.4,260 262.5,260.1 262.6,260.2 262.7,260.2 262.7,260.3 262.8,260.4 262.9,260.4 263,260.4 263.1,260.5 263.2,258.7 263.3,257.7 263.3,258.8 263.4,259.5 263.5,260 263.6,260.2 263.7,260.4 263.8,260.5 263.9,260.6 263.9,260.6 264,260.6 264.1,258.5 264.2,256.7 264.3,257.2 264.4,257.6 264.5,258 264.6,258.3 264.6,257.1 264.7,255.8 264.8,256.2 264.9,256.7 265,257.2 265.1,257.6 265.2,258 265.2,258.3 265.3,258.6 265.4,257.9 265.5,257.3 265.6,257.7 265.7,258 265.8,258.3 265.8,258.6 265.9,258.9 266,259.1 266.1,259.2 266.2,259.4 266.3,259.6 266.4,259.7 266.4,259.8 266.5,259.9 266.6,260 266.7,260.1 266.8,260 266.9,260 267,260.1 267,260.1 267.1,260.2 267.2,260.2 267.3,260.3 267.4,260.3 267.5,260.1 267.6,260 267.6,260.1 267.7,259.8 267.8,259.5 267.9,259.7 268,259.8 268.1,259.9 268.2,260 268.2,260 268.3,260.1 268.4,260.1 268.5,260.2 268.6,259.5 268.7,257.8 268.8,257 268.8,257.6 268.9,257.2 269,256.8 269.1,257.2 269.2,257.6 269.3,257.6 269.4,257.7 269.5,257.9 269.5,258.2 269.6,258.4 269.7,258.6 269.8,258.7 269.9,258.9 270,259 270.1,259.1 270.1,259.1 270.2,259.2 270.3,259.3 270.4,259.4 270.5,259.4 270.6,259.4 270.7,259.5 270.7,259.5 270.8,259.5 270.9,259.5 271,259.6 271.1,259.6 271.2,259.6 271.3,259.6 271.3,259.6 271.4,259.6 271.5,259.6 271.6,259.6 271.7,259.5 271.8,259.5 271.9,259.5 271.9,258.7 272,258.1 272.1,258.6 272.2,258.4 272.3,258.1 272.4,258 272.5,256.6 272.5,257.2 272.6,257.6 272.7,258.1 272.8,257.7 272.9,256.1 273,254.7 273.1,255.4 273.1,256 273.2,256.5 273.3,256.9 273.4,257.2 273.5,257.1 273.6,254.9 273.7,253.4 273.7,254.2 273.8,253.4 273.9,252.7 274,253.6 274.1,252.2 274.2,251.1 274.3,252.3 274.4,253.4 274.4,254.2 274.5,255 274.6,253 274.7,251.4 274.8,253.3 274.9,254.9 275,256.1 275,256.9 275.1,257.5 275.2,256.8 275.3,256.2 275.4,256.8 275.5,257.3 275.6,257.7 275.6,258.1 275.7,258.4 275.8,258.6 275.9,258.1 276,257.6 276.1,258 276.2,258.3 276.2,258.5 276.3,258.7 276.4,257.9 276.5,257.2 276.6,257.6 276.7,257.9 276.8,258.2 276.8,258.5 276.9,258.7 277,258.9 277.1,258.2 277.2,257.9 277.3,258.6 277.4,259.1 277.4,259.4 277.5,259.6 277.6,259.8 277.7,259.7 277.8,259.6 277.9,259.7 278,259.9 278,260 278.1,260.1 278.2,260.1 278.3,260.2 278.4,260.3 278.5,260.3 278.6,260.4 278.6,260.4 278.7,260.5 278.8,260.5 278.9,260.4 279,260.4 279.1,260.5 279.2,260.6 279.3,260.6 279.3,260.7 279.4,260.7 279.5,260.7 279.6,260.7 279.7,260.6 279.8,260.5 279.9,260.6 279.9,260.5 280,260.5 280.1,260.3 280.2,260.2 280.3,260.2 280.4,260.2 280.5,260.3 280.5,260.4 280.6,260.5 280.7,260.6 280.8,260.7 280.9,260.8 281,260.8 281.1,260.9 281.1,260.9 281.2,260.9 281.3,260.6 281.4,260.2 281.5,260.4 281.6,259.8 281.7,259.4 281.7,259.6 281.8,259.8 281.9,260 282,260.2 282.1,260.3 282.2,260.4 282.3,260.5 282.3,260.6 282.4,260.7 282.5,260.8 282.6,260.9 282.7,260.9 282.8,260.6 282.9,260.3 282.9,260.4 283,260.5 283.1,260.7 283.2,260.7 283.3,259.6 283.4,258.9 283.5,259.7 283.6,260.3 283.6,260.6 283.7,260.9 283.8,261 283.9,261.1 284,261.2 284.1,261.2 284.2,261.1 284.2,261.2 284.3,261.3 284.4,261.3 284.5,261.3 284.6,261.3 284.7,261.3 284.8,261.4 284.8,261.4 284.9,261.4 285,261.5 285.1,260.6 285.2,260 285.3,260.3 285.4,260.4 285.4,260.7 285.5,261 285.6,261.1 285.7,261.2 285.8,261.3 285.9,261.4 286,261.5 286,261.5 286.1,260.9 286.2,260.4 286.3,260.2 286.4,260.1 286.5,260.4 286.6,260.3 286.6,260.3 286.7,260.5 286.8,260.7 286.9,260.7 287,260.5 287.1,260.5 287.2,260.5 287.2,260.3 287.3,260.5 287.4,260.7 287.5,260.8 287.6,261 287.7,261.1 287.8,261.2 287.8,261.3 287.9,261.4 288,261.5 288.1,261.5 288.2,261.6 288.3,261.6 288.4,261.6 288.5,261.7 288.5,261.7 288.6,261.7 288.7,261.7 288.8,261.8 288.9,261.8 289,261.8 289.1,261.8 289.1,261.8 289.2,261.5 289.3,261.2 289.4,261.3 289.5,261.4 289.6,261.4 289.7,261.5 289.7,261.5 289.8,261.6 289.9,261.6 290,261.6 290.1,261.6 290.2,261.5 290.3,261.4 290.3,261.4 290.4,261.5 290.5,261.1 290.6,260.8 290.7,260.9 290.8,260.7 290.9,260.5 290.9,260.8 291,261 291.1,261.1 291.2,261.2 291.3,261.2 291.4,261.3 291.5,261.3 291.5,261.3 291.6,261.3 291.7,261.4 291.8,261.4 291.9,261.4 292,261.3 292.1,261.2 292.1,261.2 292.2,261.2 292.3,261.2 292.4,261.2 292.5,260.5 292.6,259.8 292.7,259.8 292.7,260 292.8,259.1 292.9,258.3 293,258.8 293.1,259.5 293.2,259.8 293.3,259.9 293.4,260.2 293.4,260.3 293.5,260.4 293.6,260.5 293.7,260.6 293.8,260.6 293.9,260.7 294,260.7 294,260.3 294.1,260 294.2,260.1 294.3,260.2 294.4,260.3 294.5,260.4 294.6,260.4 294.6,260.3 294.7,260.1 294.8,260.2 294.9,260.3 295,260.3 295.1,260.4 295.2,260.4 295.2,260.5 295.3,260.5 295.4,260.5 295.5,260.5 295.6,260.5 295.7,260.5 295.8,260.6 295.8,260.6 295.9,260.5 296,260.5 296.1,260.5 296.2,260.5 296.3,260.4 296.4,259.4 296.4,258.6 296.5,258.6 296.6,258.7 296.7,258.7 296.8,258.7 296.9,258.6 297,258.6 297,258.6 297.1,258.6 297.2,258.5 297.3,258.5 297.4,258.4 297.5,258.3 297.6,258.3 297.6,258.2 297.7,258.2 297.8,258.2 297.9,258.2 298,258.2 298.1,258.2 298.2,258.2 298.3,258.3 298.3,258.3 298.4,258.3 298.5,257.6 298.6,257 298.7,257.2 298.8,257.4 298.9,257.5 298.9,257.6 299,257.8 299.1,257.8 299.2,257.9 299.3,258 299.4,258 299.5,258.1 299.5,258.1 299.6,258.2 299.7,258.2 299.8,258.2 299.9,258.3 300,257.8 300.1,257.5 300.1,257.6 300.2,257.7 300.3,257.8 300.4,256.6 300.5,255.5 300.6,255.8 300.7,256.1 300.7,256.4 300.8,254.5 300.9,252.8 301,253.6 301.1,254.3 301.2,254.9 301.3,254.5 301.3,252.2 301.4,249.3 301.5,245.4 301.6,240.4 301.7,234 301.8,225.6 301.9,214.7 301.9,200.6 302,182.4 302.1,189.4 302.2,195.8 302.3,201.5 302.4,206.7 302.5,211.4 302.5,215.6 302.6,219.4 302.7,222.8 302.8,225.9 302.9,228.7 303,231.2 303.1,233.5 303.2,235.6 303.2,237.5 303.3,239.2 303.4,240.8 303.5,242.2 303.6,243.5 303.7,244.7 303.8,245.8 303.8,246.8 303.9,247.7 304,248.5 304.1,249.3 304.2,250 304.3,250.7 304.4,251.3 304.4,251.8 304.5,252.4 304.6,252.9 304.7,253.3 304.8,253.7 304.9,254.1 305,254.5 305,254.8 305.1,255.2 305.2,255.5 305.3,255.8 305.4,256 305.5,256.3 305.6,256.5 305.6,256.3 305.7,255.2 305.8,254 305.9,252.6 306,251 306.1,251.6 306.2,252.2 306.2,252.7 306.3,253.2 306.4,253.7 306.5,254.2 306.6,254.6 306.7,255 306.8,255.4 306.8,255.7 306.9,256 307,256.4 307.1,256.6 307.2,256.9 307.3,257.2 307.4,257.4 307.4,257.6 307.5,257.9 307.6,258 307.7,258.1 307.8,258.1 307.9,258.1 308,258.2 308.1,258.1 308.1,256.5 308.2,255.1 308.3,255.5 308.4,255.8 308.5,256.1 308.6,256.4 308.7,255.1 308.7,254.4 308.8,255.5 308.9,256.3 309,256.8 309.1,257.2 309.2,255.6 309.3,254.3 309.3,254.9 309.4,255.5 309.5,255.5 309.6,255.4 309.7,256 309.8,256.4 309.9,256.8 309.9,257.1 310,257.4 310.1,257.6 310.2,257.8 310.3,258 310.4,257.6 310.5,257.3 310.5,257.6 310.6,257.8 310.7,258 310.8,258.2 310.9,258.4 311,258.3 311.1,258.2 311.1,257.5 311.2,254.7 311.3,253.1 311.4,254 311.5,254.7 311.6,255.3 311.7,255.9 311.7,255.9 311.8,255.9 311.9,256.4 312,256.8 312.1,257.2 312.2,257.6 312.3,257.9 312.3,258.1 312.4,258.3 312.5,258.5 312.6,258.7 312.7,258.8 312.8,259 312.9,259.1 313,259.2 313,259.3 313.1,259.3 313.2,257 313.3,254.9 313.4,255.5 313.5,256.1 313.6,256.6 313.6,257 313.7,257.4 313.8,257.7 313.9,258 314,258.3 314.1,258.5 314.2,258.7 314.2,258.9 314.3,259 314.4,259.1 314.5,258.7 314.6,258.3 314.7,258.5 314.8,258.8 314.8,258.9 314.9,258.1 315,257.3 315.1,257.7 315.2,258 315.3,258.3 315.4,258.5 315.4,258.8 315.5,259 315.6,259.1 315.7,259.3 315.8,259.4 315.9,259.5 316,259.6 316,259.6 316.1,259.7 316.2,259.8 316.3,259.9 316.4,260 316.5,260 316.6,260.1 316.6,259.2 316.7,258.4 316.8,258.5 316.9,258.5 317,258.7 317.1,258.9 317.2,259.1 317.2,259.3 317.3,259.5 317.4,259.6 317.5,259.7 317.6,258.6 317.7,258 317.8,258.9 317.9,259.4 317.9,259.8 318,259.5 318.1,259.2 318.2,259.3 318.3,259.3 318.4,259.4 318.5,259.5 318.5,259.7 318.6,259.5 318.7,259.3 318.8,259.5 318.9,259.6 319,259.7 319.1,259.8 319.1,259.9 319.2,260 319.3,260.1 319.4,260.2 319.5,260.3 319.6,260.4 319.7,260.5 319.7,260.5 319.8,260.6 319.9,260.2 320,258.5 320.1,257.5 320.2,257.9 320.3,258.3 320.3,257.4 320.4,256.5 320.5,257 320.6,257.5 320.7,257 320.8,256.5 320.9,257 320.9,257.5 321,257.9 321.1,258.3 321.2,258.6 321.3,258.9 321.4,259.2 321.5,259.4 321.5,259.6 321.6,259.7 321.7,259.9 321.8,260 321.9,260.1 322,260.2 322.1,260.2 322.1,260.3 322.2,260.4 322.3,260.4 322.4,260.5 322.5,260.5 322.6,260.5 322.7,260.6 322.8,258.6 322.8,256.8 322.9,257.3 323,257.8 323.1,256.8 323.2,256.1 323.3,256 323.4,255.6 323.4,255.6 323.5,255.5 323.6,255.8 323.7,256.5 323.8,257.3 323.9,257.8 324,258.1 324,258.3 324.1,258.7 324.2,258.9 324.3,259.1 324.4,259.3 324.5,259.5 324.6,259.6 324.6,259.7 324.7,259.8 324.8,259.9 324.9,260 325,260 325.1,260.1 325.2,260.1 325.2,260.2 325.3,260 325.4,259.8 325.5,259.9 325.6,260 325.7,259.5 325.8,258.3 325.8,257.8 325.9,257.7 326,257.7 326.1,258 326.2,258.2 326.3,258.5 326.4,258.7 326.4,258.8 326.5,259 326.6,259.1 326.7,259.2 326.8,259.3 326.9,259.4 327,259.5 327.1,259.6 327.1,259.6 327.2,259.7 327.3,259.7 327.4,259.8 327.5,259.8 327.6,259.6 327.7,256.1 327.7,253.8 327.8,255.7 327.9,257.2 328,258.1 328.1,258.7 328.2,259 328.3,258.9 328.3,258.7 328.4,258.8 328.5,258.9 328.6,259 328.7,259 328.8,259 328.9,259 328.9,254.4 329,249.9 329.1,250.4 329.2,250.9 329.3,251.4 329.4,252.1 329.5,252.8 329.5,253.4 329.6,253.9 329.7,254.4 329.8,254.8 329.9,255.2 330,255.5 330.1,255.8 330.1,256.1 330.2,256.3 330.3,256.5 330.4,256.7 330.5,256.9 330.6,256.5 330.7,250.8 330.7,247 330.8,250.1 330.9,252.9 331,254.6 331.1,255.7 331.2,256.5 331.3,256.9 331.3,257.3 331.4,257.5 331.5,256.7 331.6,255.8 331.7,256.1 331.8,256.4 331.9,256.6 332,256.9 332,257 332.1,253.7 332.2,251 332.3,252.1 332.4,253 332.5,253.8 332.6,254.5 332.6,255.1 332.7,255.5 332.8,256 332.9,256.3 333,254.3 333.1,253.2 333.2,254.9 333.2,255.9 333.3,252 333.4,249.6 333.5,245.7 333.6,235.6 333.7,239.8 333.8,243.2 333.8,246 333.9,248.3 334,250.3 334.1,251.9 334.2,253.2 334.3,254.4 334.4,255.3 334.4,256.1 334.5,256.8 334.6,257.4 334.7,257.8 334.8,257.8 334.9,257.9 335,258 335,258 335.1,258 335.2,258.1 335.3,258.1 335.4,251.7 335.5,245.3 335.6,245.3 335.6,245.3 335.7,245.3 335.8,246.1 335.9,247.5 336,248.8 336.1,249.9 336.2,250.9 336.2,251.8 336.3,252.6 336.4,253.2 336.5,249.5 336.6,241.7 336.7,244.9 336.8,247.5 336.9,249.7 336.9,251.5 337,253 337.1,254.3 337.2,255.3 337.3,256.2 337.4,256.9 337.5,257.1 337.5,257.3 337.6,256.4 337.7,255.5 337.8,255.9 337.9,256.2 338,256.4 338.1,256.7 338.1,256.9 338.2,257 338.3,256.1 338.4,255.3 338.5,255.7 338.6,250.6 338.7,247.3 338.7,250.9 338.8,253.3 338.9,254.9 339,255.8 339.1,256.5 339.2,256.3 339.3,256.1 339.3,256.2 339.4,256 339.5,255.2 339.6,255 339.7,253.2 339.8,250.8 339.9,247.7 339.9,243.8 340,238.8 340.1,232.5 340.2,224.6 340.3,227.6 340.4,230.4 340.5,233 340.5,235.3 340.6,237.4 340.7,239.3 340.8,241 340.9,242.6 341,244 341.1,245.3 341.1,246.5 341.2,247.6 341.3,248.6 341.4,249.5 341.5,250.3 341.6,251.1 341.7,251.8 341.8,252.5 341.8,253 341.9,253.6 342,254.1 342.1,254.6 342.2,255 342.3,255.4 342.4,255.7 342.4,256.1 342.5,256.4 342.6,256.7 342.7,257 342.8,257.2 342.9,257.4 343,257.7 343,257.9 343.1,258.1 343.2,258.2 343.3,258.4 343.4,258.6 343.5,258.7 343.6,258.8 343.6,258.9 343.7,258.9 343.8,259 343.9,259.1 344,259.1 344.1,259.1 344.2,259.2 344.2,259.2 344.3,259.3 344.4,259.3 344.5,259.3 344.6,254.6 344.7,250.2 344.8,251.1 344.8,252.2 344.9,252.3 345,252.4 345.1,253.4 345.2,254.2 345.3,254.9 345.4,255.5 345.4,256.1 345.5,256.6 345.6,256.6 345.7,256.6 345.8,257 345.9,257.3 346,257.7 346,258 346.1,258.3 346.2,258.5 346.3,258.7 346.4,258.9 346.5,259.1 346.6,259.2 346.7,259.3 346.7,259.5 346.8,259.6 346.9,259.6 347,259.7 347.1,259.8 347.2,258.1 347.3,257 347.3,258.2 347.4,257.9 347.5,257.4 347.6,257.9 347.7,258.3 347.8,258.6 347.9,258.9 347.9,259.1 348,259.3 348.1,259.5 348.2,259.6 348.3,259.7 348.4,259.8 348.5,259.9 348.5,260 348.6,260 348.7,259.9 348.8,260 348.9,260.1 349,260.2 349.1,260.3 349.1,260.3 349.2,260.4 349.3,260.4 349.4,260.5 349.5,260.5 349.6,260.5 349.7,260.6 349.7,260.6 349.8,260.3 349.9,260 350,258.9 350.1,257.7 350.2,258.2 350.3,258.9 350.3,258.5 350.4,258.1 350.5,258.5 350.6,258.9 350.7,259.2 350.8,259.4 350.9,259.6 350.9,259.8 351,260 351.1,260.1 351.2,260.3 351.3,260.4 351.4,260.5 351.5,260.5 351.6,260.2 351.6,259.9 351.7,260.1 351.8,260.2 351.9,260.3 352,260.4 352.1,260.5 352.2,260.5 352.2,260 352.3,259.6 352.4,259.9 352.5,260.1 352.6,260.2 352.7,260.4 352.8,260.5 352.8,260.6 352.9,260.7 353,260.7 353.1,260.8 353.2,260.6 353.3,260.4 353.4,260.5 353.4,260.6 353.5,260.7 353.6,260.8 353.7,260.8 353.8,260.9 353.9,260.9 354,261 354,261 354.1,261 354.2,261 354.3,261 354.4,261 354.5,261 354.6,260.9 354.6,260.9 354.7,260 354.8,259.2 354.9,259.3 355,259.5 355.1,259.6 355.2,259.7 355.2,259.8 355.3,259.9 355.4,260 355.5,260 355.6,260.1 355.7,260.1 355.8,260.2 355.8,260.2 355.9,260.2 356,260.2 356.1,260.3 356.2,260.3 356.3,260.3 356.4,260.3 356.5,260.3 356.5,260.3 356.6,259.9 356.7,259.5 356.8,259.6 356.9,259.7 357,257.7 357.1,256.5 357.1,257.9 357.2,258.8 357.3,258.7 357.4,258.6 357.5,259 357.6,259.3 357.7,259.3 357.7,259.3 357.8,259.4 357.9,259.5 358,259.7 358.1,259.8 358.2,259.9 358.3,258.8 358.3,257.8 358.4,258.2 358.5,258.5 358.6,258.7 358.7,258.9 358.8,259 358.9,259 358.9,259.2 359,258.4 359.1,257.2 359.2,255.5 359.3,253.2 359.4,254.1 359.5,254.9 359.5,255.6 359.6,256.2 359.7,256.7 359.8,257.2 359.9,257.7 360,258.1 360.1,257.9 360.1,257.9 360.2,258 360.3,258 360.4,258.1 360.5,258.1 360.6,258.1 360.7,258.1 360.7,256.6 360.8,255.2 360.9,255.6 361,256 361.1,256.3 361.2,256.6 361.3,256.8 361.4,257 361.4,257.2 361.5,257.1 361.6,257.1 361.7,257.3 361.8,257.5 361.9,257.6 362,257.7 362,257.8 362.1,257.9 362.2,258 362.3,258 362.4,258.1 362.5,258.1 362.6,258.2 362.6,257.5 362.7,257 362.8,257.2 362.9,257.4 363,257.5 363.1,257.7 363.2,257.8 363.2,257.1 363.3,256.5 363.4,256.8 363.5,257 363.6,257.2 363.7,257.3 363.8,257.5 363.8,256.6 363.9,254.8 364,252.3 364.1,249 364.2,244.6 364.3,238.8 364.4,241.1 364.4,243.1 364.5,244.9 364.6,246.5 364.7,247.9 364.8,249.2 364.9,250.4 365,251.4 365,251.9 365.1,252.1 365.2,252.1 365.3,252.1 365.4,252.9 365.5,253.6 365.6,254.3 365.6,254.8 365.7,255.3 365.8,255.7 365.9,256.1 366,256.4 366.1,256.6 366.2,256.9 366.3,257.1 366.3,257.3 366.4,257.4 366.5,257.5 366.6,257.7 366.7,257.8 366.8,257.9 366.9,257.9 366.9,258 367,258.1 367.1,258.1 367.2,258.2 367.3,257.4 367.4,256.7 367.5,257 367.5,257.2 367.6,257.4 367.7,257.5 367.8,257.7 367.9,257.8 368,258 368.1,258.1 368.1,258.2 368.2,257.6 368.3,257 368.4,257.3 368.5,257.5 368.6,257.7 368.7,257.9 368.7,258.1 368.8,258.2 368.9,258.4 369,258.5 369.1,258.6 369.2,258.7 369.3,258.5 369.3,258.3 369.4,258.5 369.5,258.6 369.6,258.7 369.7,258.8 369.8,258.9 369.9,259 369.9,259.1 370,259.2 370.1,258.4 370.2,257.2 370.3,255.5 370.4,256.1 370.5,256.7 370.6,257.2 370.6,257.7 370.7,258.1 370.8,258.5 370.9,258.3 371,257.7 371.1,258.1 371.2,258.4 371.2,258.3 371.3,258.2 371.4,258.5 371.5,258.7 371.6,257.1 371.7,255.6 371.8,256.2 371.8,256.7 371.9,257.2 372,257.6 372.1,258 372.2,258.3 372.3,258.6 372.4,258.9 372.4,259.1 372.5,258.8 372.6,256.7 372.7,255.4 372.8,256.1 372.9,256.7 373,257.2 373,257.6 373.1,258 373.2,257.7 373.3,257.1 373.4,257.4 373.5,257.7 373.6,256.3 373.6,254.9 373.7,255 373.8,255.1 373.9,255.1 374,255.4 374.1,256 374.2,256.6 374.2,257.2 374.3,257.6 374.4,258.1 374.5,258.4 374.6,258.7 374.7,258.1 374.8,257.8 374.8,258.5 374.9,259 375,259.2 375.1,259.2 375.2,259.5 375.3,259.7 375.4,259.7 375.5,259.6 375.5,259.8 375.6,259.9 375.7,260.1 375.8,260.2 375.9,260.3 376,258.2 376.1,256.9 376.1,258.2 376.2,259.2 376.3,259.8 376.4,260 376.5,260.1 376.6,260.3 376.7,259.8 376.7,259.4 376.8,259.6 376.9,259.7 377,259.7 377.1,259.7 377.2,259.9 377.3,260 377.3,260.1 377.4,260.2 377.5,260.3 377.6,260.3 377.7,260.4" fill="none" stroke="#1a1aff" stroke-width="0.9" stroke-linejoin="round"/>
<polyline points="32.4,260 32.4,259.7 32.5,259.8 32.6,260 32.7,259.9 32.8,260 32.9,259.9 33,258.5 33,259.2 33.1,259.4 33.2,259.3 33.3,259.4 33.4,259.6 33.5,259.8 33.6,259.7 33.6,259 33.7,259.6 33.8,259.5 33.9,259.8 34,259.7 34.1,258 34.2,258 34.2,258.6 34.3,258.2 34.4,258.6 34.5,258.9 34.6,259.6 34.7,259.4 34.8,258.5 34.8,258.7 34.9,259.3 35,259.3 35.1,259.6 35.2,259.7 35.3,259.4 35.4,259.9 35.4,259.8 35.5,259.7 35.6,260.1 35.7,260 35.8,260.1 35.9,260.1 36,260.4 36,260.2 36.1,260.1 36.2,260.6 36.3,260.3 36.4,260.5 36.5,260.6 36.6,259.8 36.6,260.2 36.7,260.6 36.8,260.5 36.9,260.5 37,260.7 37.1,260.7 37.2,260.8 37.3,260.8 37.3,260.7 37.4,260 37.5,260.1 37.6,260.4 37.7,260.5 37.8,260.7 37.9,258.4 37.9,258.9 38,259.1 38.1,259.5 38.2,260.1 38.3,260.3 38.4,260.2 38.5,260.6 38.5,260.5 38.6,260.6 38.7,260.4 38.8,260.5 38.9,260.7 39,260.7 39.1,260.7 39.1,260.5 39.2,260.7 39.3,260.7 39.4,257.5 39.5,258.1 39.6,257.9 39.7,258.7 39.7,258.9 39.8,259.3 39.9,259.2 40,259.5 40.1,259.3 40.2,256.8 40.3,257.7 40.3,257.7 40.4,258.3 40.5,258.5 40.6,259.2 40.7,259 40.8,258.9 40.9,258.2 40.9,258 41,258.5 41.1,258.5 41.2,258.2 41.3,257.1 41.4,257.7 41.5,257.9 41.5,258.2 41.6,258.7 41.7,258.9 41.8,258.9 41.9,259.1 42,258 42.1,257.8 42.2,258.2 42.2,258.8 42.3,258.7 42.4,259.2 42.5,258.9 42.6,259.2 42.7,259.4 42.8,259.6 42.8,259.5 42.9,258.3 43,258.5 43.1,258.4 43.2,259.2 43.3,258.8 43.4,259.5 43.4,258.2 43.5,258.9 43.6,258.7 43.7,258.4 43.8,259.1 43.9,258.6 44,258.8 44,259.2 44.1,259 44.2,259.1 44.3,259.4 44.4,259 44.5,259.4 44.6,259.4 44.6,259.6 44.7,259.6 44.8,259.7 44.9,259.2 45,258.1 45.1,257.8 45.2,258.4 45.2,258.9 45.3,259 45.4,259.2 45.5,259.2 45.6,259.4 45.7,259.5 45.8,259.8 45.8,259.7 45.9,259.3 46,259.8 46.1,259.9 46.2,258.9 46.3,258.9 46.4,259.6 46.4,259.5 46.5,259.6 46.6,258.9 46.7,257.7 46.8,256.2 46.9,255.3 47,252.1 47.1,254.5 47.1,253.3 47.2,254.2 47.3,255.7 47.4,256.5 47.5,254.1 47.6,257.7 47.7,257.7 47.7,257.8 47.8,259 47.9,258.6 48,257.8 48.1,258.7 48.2,259.1 48.3,259.3 48.3,259.3 48.4,259.6 48.5,259.9 48.6,260.3 48.7,260.4 48.8,260.2 48.9,260.4 48.9,260.5 49,260.7 49.1,260.6 49.2,260.4 49.3,260.7 49.4,261 49.5,260.9 49.5,261.2 49.6,261 49.7,261.1 49.8,261.1 49.9,261 50,261.1 50.1,261.3 50.1,261.4 50.2,261.2 50.3,261.4 50.4,261.3 50.5,260.6 50.6,261 50.7,261.1 50.7,261 50.8,261 50.9,261.1 51,261.1 51.1,261.2 51.2,261.2 51.3,261.1 51.3,261.2 51.4,261 51.5,260.8 51.6,260.9 51.7,260.8 51.8,259.1 51.9,259.2 52,259.5 52,257.9 52.1,258 52.2,258.7 52.3,258.8 52.4,259.1 52.5,258.8 52.6,259.7 52.6,259.4 52.7,259.7 52.8,259.8 52.9,260.1 53,260.1 53.1,259.9 53.2,259.6 53.2,259.7 53.3,259.8 53.4,259.7 53.5,259.9 53.6,260 53.7,259.9 53.8,260.1 53.8,260.3 53.9,260 54,259.7 54.1,260 54.2,260.2 54.3,260.2 54.4,259.9 54.4,260.1 54.5,260.2 54.6,259.2 54.7,259.4 54.8,259.5 54.9,259.4 55,259.6 55,260 55.1,258.2 55.2,259.7 55.3,259.8 55.4,260.3 55.5,256.7 55.6,257.4 55.6,258.4 55.7,258.1 55.8,256.1 55.9,257.7 56,258 56.1,258.6 56.2,258 56.2,257.8 56.3,258.5 56.4,258.4 56.5,259.2 56.6,259.3 56.7,259.5 56.8,259.5 56.9,259.9 56.9,260.1 57,260 57.1,260.4 57.2,260.5 57.3,260.8 57.4,260.4 57.5,258.4 57.5,259 57.6,259.5 57.7,259.9 57.8,260.1 57.9,257.8 58,258.6 58.1,259.1 58.1,259.3 58.2,259.8 58.3,260.2 58.4,260.5 58.5,260.6 58.6,260.5 58.7,260.8 58.7,260.9 58.8,261 58.9,261.1 59,261.1 59.1,260.9 59.2,261.1 59.3,261.1 59.3,261.1 59.4,261.1 59.5,261.3 59.6,261.2 59.7,260.5 59.8,260.5 59.9,260.8 59.9,260.8 60,260.8 60.1,261.1 60.2,261.2 60.3,261.1 60.4,261.2 60.5,261.3 60.5,261.2 60.6,261.1 60.7,261.3 60.8,261.3 60.9,261.4 61,261.3 61.1,261.4 61.1,261.4 61.2,261.2 61.3,261.3 61.4,261.2 61.5,261.1 61.6,261.2 61.7,261.2 61.8,261 61.8,261.2 61.9,261.2 62,261.2 62.1,261.1 62.2,261 62.3,261 62.4,261.1 62.4,261.1 62.5,261 62.6,260.9 62.7,261 62.8,260.9 62.9,260.9 63,260.9 63,260.9 63.1,260.8 63.2,260.8 63.3,260.7 63.4,260.6 63.5,260.7 63.6,260.8 63.6,260.9 63.7,260.7 63.8,260.9 63.9,260.9 64,260.6 64.1,260.7 64.2,260.8 64.2,260.9 64.3,260.8 64.4,260.8 64.5,260.7 64.6,257.9 64.7,259 64.8,259.6 64.8,260 64.9,260.1 65,260 65.1,260.4 65.2,259.7 65.3,260.2 65.4,260 65.4,260.2 65.5,260.4 65.6,260.7 65.7,260.7 65.8,260.8 65.9,260.9 66,260.9 66,261.1 66.1,261.1 66.2,260.9 66.3,261 66.4,261 66.5,261 66.6,261.2 66.7,261.2 66.7,261.1 66.8,261.1 66.9,261.2 67,261 67.1,261.1 67.2,261.2 67.3,261.2 67.3,261.1 67.4,260.4 67.5,260.8 67.6,260.6 67.7,260.8 67.8,260.8 67.9,261 67.9,261.1 68,259.7 68.1,259.3 68.2,260 68.3,260 68.4,259.1 68.5,258.7 68.5,259.1 68.6,259.2 68.7,259.2 68.8,259.9 68.9,259.8 69,260.1 69.1,260.5 69.1,260.6 69.2,260.7 69.3,260.8 69.4,260.9 69.5,261 69.6,261 69.7,261.2 69.7,261.2 69.8,260.9 69.9,260.9 70,261.2 70.1,261.1 70.2,261.3 70.3,261.3 70.3,261.3 70.4,261.4 70.5,261.3 70.6,261.5 70.7,261.4 70.8,261.5 70.9,261.5 70.9,261.5 71,261.5 71.1,259.9 71.2,259.9 71.3,260.1 71.4,259.9 71.5,259.9 71.6,259.8 71.6,260.3 71.7,260.4 71.8,260.8 71.9,260.7 72,261 72.1,261.1 72.2,260.7 72.2,260.6 72.3,261 72.4,261 72.5,261 72.6,261.1 72.7,261 72.8,261.1 72.8,261.1 72.9,260.1 73,260.4 73.1,260.3 73.2,260.6 73.3,260.7 73.4,260.8 73.4,260.4 73.5,260.5 73.6,260.5 73.7,260.6 73.8,260.6 73.9,260.7 74,260.5 74,260.3 74.1,260.5 74.2,260.6 74.3,260.7 74.4,260.5 74.5,260.5 74.6,260.8 74.6,260.9 74.7,260.8 74.8,259.1 74.9,260.1 75,259.8 75.1,260.2 75.2,257.7 75.2,259.9 75.3,260.5 75.4,260.7 75.5,260.6 75.6,260.4 75.7,260.6 75.8,258.9 75.9,259.3 75.9,259.6 76,259.6 76.1,259.8 76.2,260 76.3,260.2 76.4,260.5 76.5,260.5 76.5,260.6 76.6,260.6 76.7,260.6 76.8,260.2 76.9,260.5 77,260.5 77.1,260.2 77.1,260.4 77.2,260.5 77.3,260.8 77.4,260.7 77.5,260.9 77.6,261 77.7,261.1 77.7,261.2 77.8,261.2 77.9,261.2 78,260.4 78.1,260.6 78.2,260.8 78.3,261 78.3,261 78.4,261.2 78.5,261.3 78.6,261.3 78.7,261.5 78.8,261.4 78.9,261.4 78.9,261.4 79,261.5 79.1,261.5 79.2,261.5 79.3,261.5 79.4,261.1 79.5,261.1 79.5,261.2 79.6,261.2 79.7,261.2 79.8,261.2 79.9,261.3 80,260.9 80.1,261.1 80.1,260.5 80.2,256.6 80.3,258.8 80.4,260.8 80.5,261.1 80.6,261.1 80.7,261 80.8,260.6 80.8,260.7 80.9,260.9 81,259.3 81.1,258 81.2,258 81.3,258.1 81.4,258.5 81.4,257.8 81.5,258.6 81.6,259.4 81.7,259.1 81.8,259.6 81.9,259.7 82,259.7 82,259.4 82.1,259.7 82.2,259.6 82.3,259.2 82.4,258.5 82.5,258.9 82.6,258.9 82.6,257.2 82.7,257.3 82.8,257.2 82.9,257.4 83,257.6 83.1,257.4 83.2,258 83.2,257.9 83.3,257.6 83.4,257.7 83.5,257.5 83.6,253.9 83.7,255 83.8,255.3 83.8,256.4 83.9,257 84,256.4 84.1,256.9 84.2,257 84.3,257.8 84.4,257.5 84.4,257.7 84.5,257.4 84.6,256.6 84.7,253.6 84.8,253.7 84.9,252.3 85,248 85,242.5 85.1,240.8 85.2,230.7 85.3,232.9 85.4,232.9 85.5,239.9 85.6,239.5 85.7,236.4 85.7,244.9 85.8,246.7 85.9,248.1 86,246 86.1,246.9 86.2,249.4 86.3,249.9 86.3,248.3 86.4,250 86.5,254.3 86.6,253 86.7,253.4 86.8,253.1 86.9,254.8 86.9,255.7 87,255.3 87.1,255.7 87.2,256.2 87.3,257 87.4,256.4 87.5,257.7 87.5,257.7 87.6,258.3 87.7,258 87.8,257.6 87.9,258.5 88,258.1 88.1,259.2 88.1,258.7 88.2,259.6 88.3,259.3 88.4,259.4 88.5,259 88.6,259.4 88.7,259.6 88.7,259.3 88.8,259.7 88.9,259.6 89,259.6 89.1,260 89.2,260.2 89.3,259.3 89.3,259.2 89.4,259.3 89.5,258.4 89.6,259.2 89.7,259.4 89.8,259.4 89.9,259.9 89.9,260.1 90,260.1 90.1,260.1 90.2,260.4 90.3,260 90.4,260.1 90.5,259.8 90.6,260.2 90.6,258.7 90.7,259 90.8,259.3 90.9,259.7 91,259.8 91.1,257.5 91.2,257.9 91.2,258.5 91.3,258.3 91.4,259 91.5,259.4 91.6,259.5 91.7,259.7 91.8,256.9 91.8,257.4 91.9,257.2 92,257 92.1,255.8 92.2,256.4 92.3,257 92.4,257.3 92.4,257.3 92.5,258.3 92.6,258.7 92.7,258.6 92.8,259 92.9,259.2 93,259.6 93,259.3 93.1,259.4 93.2,258.7 93.3,258.6 93.4,259.4 93.5,259.1 93.6,258.5 93.6,258.6 93.7,258.8 93.8,259.2 93.9,259.6 94,259.3 94.1,259.7 94.2,259.7 94.2,259.8 94.3,259.8 94.4,260.2 94.5,259.7 94.6,259.9 94.7,259.8 94.8,259.6 94.8,260 94.9,260.3 95,260.2 95.1,260.3 95.2,260.2 95.3,260.1 95.4,260.4 95.5,259.5 95.5,260 95.6,259.8 95.7,259.9 95.8,260 95.9,260 96,260.2 96.1,259.8 96.1,260.1 96.2,260 96.3,259.8 96.4,259.9 96.5,260.1 96.6,260.3 96.7,260.5 96.7,260.3 96.8,258 96.9,258.5 97,258.9 97.1,259.2 97.2,259.5 97.3,259.7 97.3,260.1 97.4,260.1 97.5,259.8 97.6,260.1 97.7,260.3 97.8,260.3 97.9,260.3 97.9,260.6 98,260.6 98.1,260.6 98.2,260.7 98.3,260.8 98.4,260.7 98.5,261 98.5,261 98.6,261 98.7,260.9 98.8,261.2 98.9,261.2 99,261.2 99.1,261.1 99.1,261.1 99.2,261.1 99.3,261.3 99.4,261.2 99.5,261.3 99.6,261.4 99.7,261.3 99.7,261.4 99.8,261 99.9,260.9 100,261.1 100.1,261.2 100.2,261.2 100.3,261.2 100.4,261.1 100.4,261.3 100.5,261.4 100.6,261.4 100.7,261.4 100.8,261.4 100.9,261.3 101,261.3 101,261.4 101.1,261.1 101.2,261.2 101.3,261.1 101.4,261.1 101.5,261 101.6,261.1 101.6,260.9 101.7,261 101.8,261 101.9,258.6 102,259.3 102.1,259.2 102.2,259.1 102.2,259.2 102.3,259.7 102.4,259.3 102.5,259.8 102.6,260.1 102.7,259.3 102.8,259.2 102.8,257.6 102.9,258.2 103,258.3 103.1,258.4 103.2,257.7 103.3,258.5 103.4,258.6 103.4,258.7 103.5,258.5 103.6,258.9 103.7,259.1 103.8,259.4 103.9,259.2 104,259.7 104,259.7 104.1,259.7 104.2,256.2 104.3,256.1 104.4,255.8 104.5,256.4 104.6,256.5 104.6,256.1 104.7,255.2 104.8,255.4 104.9,256.3 105,256.5 105.1,256.7 105.2,257.3 105.3,255.4 105.3,253.2 105.4,255.2 105.5,255.1 105.6,255.7 105.7,256.2 105.8,257.8 105.9,257.8 105.9,259 106,259.5 106.1,254.6 106.2,256.1 106.3,256.6 106.4,256.1 106.5,257.3 106.5,258.1 106.6,258.3 106.7,258.5 106.8,258.6 106.9,255.4 107,256.5 107.1,256.6 107.1,257.1 107.2,257.6 107.3,257.7 107.4,258.4 107.5,258.5 107.6,259.2 107.7,259 107.7,259 107.8,258.7 107.9,258.6 108,259 108.1,258.8 108.2,259.6 108.3,259.7 108.3,259.7 108.4,258.5 108.5,259.2 108.6,258.5 108.7,259 108.8,259.3 108.9,259.7 108.9,260.1 109,260.1 109.1,260.2 109.2,260.6 109.3,260.6 109.4,260.6 109.5,260.8 109.5,260.8 109.6,261 109.7,260.9 109.8,260.9 109.9,261 110,261.2 110.1,260.7 110.2,260.9 110.2,261 110.3,261 110.4,261.2 110.5,261.1 110.6,261.2 110.7,261.1 110.8,261.2 110.8,261.2 110.9,261.1 111,261.1 111.1,261.1 111.2,261 111.3,259.3 111.4,259.8 111.4,259.4 111.5,259.5 111.6,258.7 111.7,258.9 111.8,258.8 111.9,259.2 112,259 112,257.8 112.1,257.6 112.2,258.6 112.3,258 112.4,258.6 112.5,258.8 112.6,258.2 112.6,258.6 112.7,258.9 112.8,258.6 112.9,258.2 113,258.1 113.1,258.5 113.2,258.2 113.2,252.1 113.3,253.8 113.4,253.8 113.5,254.5 113.6,255.2 113.7,255.6 113.8,255.7 113.8,256 113.9,256.5 114,256.7 114.1,256.3 114.2,256.8 114.3,256.7 114.4,256.7 114.4,257 114.5,256.5 114.6,257.7 114.7,257.2 114.8,257.7 114.9,245.6 115,245.8 115.1,249.5 115.1,249.7 115.2,243.4 115.3,241.9 115.4,244.8 115.5,245.7 115.6,249.8 115.7,245.5 115.7,246.7 115.8,247.3 115.9,250.7 116,251.1 116.1,250.9 116.2,253.1 116.3,251.2 116.3,254.7 116.4,255.6 116.5,253.5 116.6,254.5 116.7,255.5 116.8,255.4 116.9,255.8 116.9,256.1 117,257 117.1,256.9 117.2,254.9 117.3,250.8 117.4,251.6 117.5,252.4 117.5,254.3 117.6,255.2 117.7,255.9 117.8,256.5 117.9,257.4 118,257 118.1,255.3 118.1,254.2 118.2,249.8 118.3,246.5 118.4,251.1 118.5,249.4 118.6,247.6 118.7,249.2 118.7,253.4 118.8,254 118.9,252.3 119,252.6 119.1,257 119.2,256.6 119.3,256.4 119.4,256 119.4,258.1 119.5,257.4 119.6,258.4 119.7,256.7 119.8,258.5 119.9,259 120,259.4 120,258.9 120.1,259.3 120.2,260.1 120.3,259.8 120.4,260.5 120.5,260.4 120.6,260.6 120.6,260.7 120.7,260.7 120.8,260.8 120.9,260.5 121,260.5 121.1,259.1 121.2,259.4 121.2,259.7 121.3,260.3 121.4,260.5 121.5,260.8 121.6,260.8 121.7,261 121.8,261.1 121.8,261.2 121.9,261.1 122,261.3 122.1,261.3 122.2,261.3 122.3,261.4 122.4,261.4 122.4,260.8 122.5,261.1 122.6,261 122.7,260.9 122.8,261.1 122.9,261.3 123,261.3 123,261 123.1,261 123.2,261.2 123.3,261.2 123.4,261.1 123.5,261.1 123.6,260.8 123.6,261 123.7,261.1 123.8,261.1 123.9,261.3 124,261.1 124.1,261.2 124.2,260.3 124.3,260.3 124.3,260.5 124.4,260.9 124.5,260.7 124.6,260.8 124.7,261 124.8,261.1 124.9,261 124.9,261.2 125,260 125.1,260.6 125.2,260.6 125.3,260.6 125.4,260.7 125.5,260.8 125.5,260.8 125.6,260.9 125.7,260.8 125.8,261.2 125.9,261 126,261.1 126.1,261.1 126.1,261.1 126.2,261.2 126.3,259.2 126.4,259.2 126.5,259.6 126.6,260 126.7,259.7 126.7,259.9 126.8,260.5 126.9,260.4 127,260.2 127.1,260.5 127.2,260.7 127.3,260.7 127.3,260.8 127.4,260.5 127.5,260.6 127.6,258.6 127.7,258.3 127.8,258.3 127.9,258.7 127.9,258.9 128,259.4 128.1,258 128.2,257.6 128.3,257.9 128.4,257.7 128.5,257.7 128.5,257.7 128.6,257.8 128.7,258.5 128.8,258.7 128.9,259.5 129,259.3 129.1,259.8 129.2,260.2 129.2,260.3 129.3,259 129.4,259.3 129.5,259.8 129.6,259.8 129.7,260.3 129.8,260.6 129.8,260.6 129.9,260.8 130,260.7 130.1,260.7 130.2,260.8 130.3,261 130.4,261 130.4,260.8 130.5,261 130.6,261.1 130.7,261 130.8,260.9 130.9,260.7 131,260.9 131,261 131.1,261 131.2,261.1 131.3,261.2 131.4,260.8 131.5,261 131.6,261 131.6,260.9 131.7,260.8 131.8,261.2 131.9,261.2 132,260.1 132.1,260.3 132.2,260.5 132.2,260.8 132.3,260.7 132.4,261 132.5,261 132.6,261 132.7,261.1 132.8,261.3 132.8,261.3 132.9,261.3 133,261.3 133.1,261.4 133.2,260.4 133.3,260.8 133.4,260.8 133.4,259.4 133.5,260.3 133.6,260.3 133.7,260.2 133.8,260.5 133.9,260.7 134,260.3 134.1,260.5 134.1,260.7 134.2,260.9 134.3,260.9 134.4,261 134.5,260 134.6,260.2 134.7,260.3 134.7,260.4 134.8,260.7 134.9,260.6 135,260.7 135.1,259 135.2,259.2 135.3,259.7 135.3,259.9 135.4,259.9 135.5,260.4 135.6,260.3 135.7,260.4 135.8,260.5 135.9,260.7 135.9,259 136,259.2 136.1,259.3 136.2,259.6 136.3,259.3 136.4,259.6 136.5,259.9 136.5,259.9 136.6,259.2 136.7,259.4 136.8,259.4 136.9,260 137,260.4 137.1,260.4 137.1,260.5 137.2,260.6 137.3,260.4 137.4,260.6 137.5,260.8 137.6,260.7 137.7,260.6 137.7,260.3 137.8,260.5 137.9,260.6 138,260.6 138.1,260.7 138.2,260.7 138.3,260.8 138.3,260.4 138.4,260.5 138.5,260.7 138.6,261 138.7,260.9 138.8,261 138.9,259.3 139,259.4 139,259.9 139.1,260.2 139.2,260.1 139.3,260.4 139.4,260.6 139.5,260.6 139.6,260.7 139.6,260.8 139.7,261.1 139.8,261 139.9,260.4 140,260.6 140.1,260.5 140.2,260.5 140.2,260.7 140.3,260.8 140.4,260.5 140.5,260.8 140.6,260.9 140.7,258.9 140.8,259.1 140.8,259.5 140.9,259.4 141,259.6 141.1,259.9 141.2,259.8 141.3,259.8 141.4,259.3 141.4,259.4 141.5,259.6 141.6,258.9 141.7,259.5 141.8,256.3 141.9,256.7 142,256.6 142,256 142.1,256.4 142.2,256.8 142.3,257.6 142.4,258.2 142.5,258.2 142.6,258.2 142.6,258.3 142.7,258.3 142.8,258.6 142.9,258.6 143,258.5 143.1,253.2 143.2,253.9 143.2,253.9 143.3,254.3 143.4,253.1 143.5,255.1 143.6,254.5 143.7,252 143.8,252 143.9,253.2 143.9,254.5 144,255 144.1,255.3 144.2,251.8 144.3,253.3 144.4,253.9 144.5,253.7 144.5,256 144.6,255.5 144.7,256.4 144.8,251.8 144.9,252.3 145,253.7 145.1,253.9 145.1,255.6 145.2,254.8 145.3,256 145.4,255.8 145.5,254.9 145.6,249.5 145.7,250.3 145.7,245.3 145.8,251.9 145.9,249.2 146,249.2 146.1,250.2 146.2,249.3 146.3,250.3 146.3,251.4 146.4,253.6 146.5,254.2 146.6,254.2 146.7,253.7 146.8,255.3 146.9,255.4 146.9,256 147,256.9 147.1,249.6 147.2,253 147.3,253.4 147.4,254 147.5,254.5 147.5,255.3 147.6,255.8 147.7,256.6 147.8,257.1 147.9,256.9 148,255.6 148.1,256.4 148.1,256.7 148.2,256.8 148.3,257.5 148.4,257.5 148.5,255.6 148.6,255.3 148.7,254.4 148.8,254.2 148.8,250.5 148.9,251.2 149,251.1 149.1,252.9 149.2,253.8 149.3,252.5 149.4,254 149.4,248.8 149.5,246.3 149.6,238.6 149.7,235.6 149.8,237.5 149.9,242.2 150,237.5 150,244.1 150.1,248.8 150.2,250.4 150.3,241.5 150.4,247.3 150.5,249.4 150.6,250.4 150.6,251.8 150.7,247.7 150.8,248.4 150.9,248.5 151,250.6 151.1,251.5 151.2,249.5 151.2,253.8 151.3,253.7 151.4,252.9 151.5,255.4 151.6,254.3 151.7,256 151.8,257 151.8,256.2 151.9,257.4 152,256 152.1,256.6 152.2,257.4 152.3,257.4 152.4,257.6 152.4,258 152.5,257.8 152.6,258.6 152.7,258.3 152.8,258.8 152.9,258.9 153,258.9 153,258.9 153.1,259.1 153.2,259 153.3,257.8 153.4,257.4 153.5,257.8 153.6,258.3 153.7,252.9 153.7,253.1 153.8,254 153.9,254.2 154,252.8 154.1,252.2 154.2,252.9 154.3,253.2 154.3,253.4 154.4,255.6 154.5,255.8 154.6,256.9 154.7,257.4 154.8,257.8 154.9,257.2 154.9,257.2 155,258.1 155.1,258.6 155.2,254.2 155.3,255.7 155.4,256 155.5,256.9 155.5,257.2 155.6,257.5 155.7,254.7 155.8,254.3 155.9,255.6 156,255.9 156.1,255.8 156.1,256.1 156.2,257.1 156.3,257.2 156.4,257.6 156.5,258.4 156.6,258.5 156.7,258.8 156.7,258.5 156.8,258.4 156.9,258.7 157,256.6 157.1,256.5 157.2,253.5 157.3,252.7 157.3,255 157.4,256.7 157.5,255 157.6,256.1 157.7,257.6 157.8,257.6 157.9,257.7 157.9,257.9 158,258.6 158.1,258.6 158.2,258.5 158.3,258.7 158.4,258.6 158.5,256.5 158.6,255.4 158.6,257.4 158.7,257.6 158.8,258.6 158.9,258.7 159,258.3 159.1,259.1 159.2,258.1 159.2,258.6 159.3,259.1 159.4,259.1 159.5,258.7 159.6,258.9 159.7,258.9 159.8,259.1 159.8,258.3 159.9,258.3 160,258.3 160.1,258.7 160.2,258.7 160.3,258.5 160.4,259.1 160.4,259.4 160.5,259.6 160.6,259.8 160.7,259.9 160.8,260 160.9,259.9 161,258.7 161,258.7 161.1,259.2 161.2,259.3 161.3,259.7 161.4,259.3 161.5,258.4 161.6,258.4 161.6,259 161.7,259 161.8,259.6 161.9,259.6 162,259.4 162.1,260.2 162.2,259.9 162.2,259.9 162.3,260.2 162.4,260.2 162.5,260.2 162.6,260.5 162.7,260.4 162.8,259.1 162.9,257.8 162.9,258.2 163,257.2 163.1,257.8 163.2,258.2 163.3,259.1 163.4,258.6 163.5,257.6 163.5,258.2 163.6,258.9 163.7,259.1 163.8,259.2 163.9,259.4 164,259.5 164.1,259 164.1,258.7 164.2,259.9 164.3,259.5 164.4,259.8 164.5,260 164.6,259.8 164.7,260.3 164.7,257.9 164.8,258 164.9,258.9 165,258.8 165.1,259 165.2,259.4 165.3,259.2 165.3,259.8 165.4,259.6 165.5,260.1 165.6,259.8 165.7,260 165.8,260.4 165.9,260.1 165.9,260.3 166,260.2 166.1,259.9 166.2,260.3 166.3,260.3 166.4,259.8 166.5,260.1 166.5,259.4 166.6,259.7 166.7,260 166.8,259.9 166.9,259.7 167,258.6 167.1,258.5 167.1,258.8 167.2,259 167.3,259.2 167.4,258.8 167.5,259.3 167.6,259.6 167.7,259.5 167.8,257.9 167.8,258.3 167.9,258.8 168,259.1 168.1,258.3 168.2,259 168.3,259.2 168.4,258.9 168.4,259.4 168.5,259.3 168.6,259.3 168.7,256 168.8,256.9 168.9,256.7 169,257.4 169,258.2 169.1,256.5 169.2,256.2 169.3,257.4 169.4,257.6 169.5,258.2 169.6,259 169.6,258.9 169.7,259.2 169.8,259.5 169.9,259.9 170,259.9 170.1,260 170.2,260.1 170.2,260.4 170.3,260.2 170.4,259.6 170.5,259.5 170.6,259.4 170.7,260 170.8,260.1 170.8,259.9 170.9,260.2 171,260.3 171.1,257.4 171.2,257.8 171.3,259.1 171.4,259.1 171.4,259.4 171.5,259.7 171.6,259.8 171.7,259.9 171.8,259.7 171.9,260 172,259.8 172,259.8 172.1,259.9 172.2,259.8 172.3,259.5 172.4,259.7 172.5,259.8 172.6,259.7 172.7,259.8 172.7,259.5 172.8,259.3 172.9,259.6 173,259.4 173.1,259 173.2,259.3 173.3,259.1 173.3,259.3 173.4,259.2 173.5,259 173.6,258.2 173.7,258.8 173.8,258.8 173.9,258.7 173.9,257.9 174,257.7 174.1,257.9 174.2,257.3 174.3,257.9 174.4,257.5 174.5,257.9 174.5,257.8 174.6,258.3 174.7,257.4 174.8,255.2 174.9,248.1 175,249.8 175.1,246.8 175.1,248.8 175.2,250.3 175.3,251.4 175.4,252.4 175.5,252.9 175.6,254.6 175.7,255 175.7,254.9 175.8,255.4 175.9,256 176,256.4 176.1,256.8 176.2,256.7 176.3,256.4 176.3,257.4 176.4,256.6 176.5,250.7 176.6,252.7 176.7,252.7 176.8,252.9 176.9,252.9 176.9,243.2 177,244.3 177.1,239.4 177.2,237.6 177.3,242.8 177.4,239.4 177.5,245.2 177.6,241.9 177.6,243 177.7,249.8 177.8,249.7 177.9,250.6 178,251.9 178.1,251.3 178.2,252.3 178.2,253.6 178.3,251.9 178.4,251.8 178.5,254.9 178.6,254.5 178.7,254.2 178.8,255 178.8,255.9 178.9,254.5 179,254.9 179.1,254.2 179.2,255.3 179.3,254.7 179.4,255.4 179.4,256.2 179.5,256.5 179.6,256.8 179.7,255.7 179.8,254.5 179.9,249.5 180,246.5 180,249 180.1,247.6 180.2,248 180.3,253.7 180.4,253.4 180.5,253.9 180.6,253.2 180.6,248 180.7,247.3 180.8,249.2 180.9,249.9 181,253 181.1,252 181.2,253.8 181.2,253.7 181.3,255.8 181.4,255.2 181.5,256.1 181.6,256.1 181.7,257.2 181.8,257.4 181.8,256.7 181.9,258 182,258.2 182.1,258.2 182.2,258.6 182.3,258.2 182.4,256.8 182.5,258 182.5,253.1 182.6,252.4 182.7,254.1 182.8,255.1 182.9,254.6 183,253.7 183.1,253.6 183.1,254.5 183.2,254.8 183.3,253.7 183.4,254.8 183.5,253.9 183.6,256.2 183.7,257 183.7,257.2 183.8,257.3 183.9,258.3 184,259.1 184.1,259.1 184.2,259.1 184.3,259.7 184.3,259.9 184.4,259 184.5,259.5 184.6,259.9 184.7,260 184.8,260.2 184.9,259.8 184.9,259.2 185,259.3 185.1,259.5 185.2,260.1 185.3,259.9 185.4,259.9 185.5,260.1 185.5,260.1 185.6,260.4 185.7,260.5 185.8,260.3 185.9,260.5 186,260.7 186.1,260.3 186.1,260.6 186.2,260.5 186.3,260.7 186.4,259.2 186.5,259.4 186.6,259.1 186.7,259.2 186.7,259.8 186.8,259.4 186.9,259.9 187,260 187.1,258 187.2,258.6 187.3,259.2 187.4,258.7 187.4,259.5 187.5,259.4 187.6,259.5 187.7,259.4 187.8,259.8 187.9,259.6 188,259.9 188,259.6 188.1,259.9 188.2,259.9 188.3,259.5 188.4,259.7 188.5,259.8 188.6,259.3 188.6,259.7 188.7,259.9 188.8,259.6 188.9,259.1 189,258.6 189.1,258.7 189.2,259.2 189.2,259.3 189.3,259.1 189.4,258.8 189.5,259.2 189.6,258.9 189.7,259.5 189.8,259.3 189.8,255.9 189.9,256.6 190,257 190.1,258 190.2,257.8 190.3,258.3 190.4,258.7 190.4,259 190.5,259.1 190.6,258.8 190.7,258.9 190.8,258.8 190.9,258.6 191,258.7 191,258.7 191.1,259.1 191.2,259.3 191.3,258.9 191.4,259.1 191.5,258.9 191.6,259.2 191.6,258.1 191.7,258.4 191.8,258.6 191.9,258.7 192,258.9 192.1,259 192.2,259.1 192.3,259.1 192.3,256.4 192.4,256.4 192.5,257.7 192.6,257.9 192.7,258.7 192.8,259 192.9,258.8 192.9,259.6 193,259.9 193.1,260 193.2,260.1 193.3,259.8 193.4,260.2 193.5,260.2 193.5,260.6 193.6,260.5 193.7,260.5 193.8,260.5 193.9,233.6 194,247.8 194.1,254.8 194.1,261.1 194.2,261.1 194.3,261.1 194.4,261.3 194.5,261.2 194.6,261.2 194.7,261.3 194.7,261.4 194.8,261.3 194.9,261.4 195,261.4 195.1,261.4 195.2,260.1 195.3,259.9 195.3,260.4 195.4,260.6 195.5,260.8 195.6,261 195.7,261 195.8,261.2 195.9,261.3 195.9,261.4 196,261.4 196.1,261.5 196.2,261.5 196.3,261.3 196.4,261.4 196.5,261.4 196.5,261.1 196.6,261 196.7,261.2 196.8,261 196.9,261.1 197,261 197.1,261.2 197.2,261.3 197.2,261.3 197.3,261.3 197.4,261.3 197.5,261.4 197.6,261.2 197.7,261.4 197.8,261.3 197.8,261.4 197.9,261.2 198,261.3 198.1,260.5 198.2,260.5 198.3,260.6 198.4,260.9 198.4,260.9 198.5,261 198.6,260.9 198.7,260.9 198.8,259.6 198.9,259.9 199,260 199,260.1 199.1,260 199.2,260 199.3,260.5 199.4,260.3 199.5,260.4 199.6,260.3 199.6,260.5 199.7,260.4 199.8,260.6 199.9,259.9 200,260.1 200.1,260.2 200.2,260.1 200.2,260.2 200.3,258 200.4,255.9 200.5,255.9 200.6,256.6 200.7,256.7 200.8,255.1 200.8,256.7 200.9,257 201,256.6 201.1,257 201.2,258.1 201.3,257.7 201.4,258.5 201.5,258.6 201.5,259 201.6,258.8 201.7,259.1 201.8,259.1 201.9,258.7 202,259 202.1,258.9 202.1,258.7 202.2,258.6 202.3,258.8 202.4,258.7 202.5,255 202.6,254.4 202.7,255.6 202.7,256.8 202.8,256.7 202.9,256.7 203,257 203.1,256.7 203.2,257 203.3,254.2 203.3,254.5 203.4,255.6 203.5,255.3 203.6,255.7 203.7,254.8 203.8,256.3 203.9,257.4 203.9,257 204,256.9 204.1,257 204.2,257.1 204.3,257.1 204.4,256.9 204.5,257.3 204.5,257.6 204.6,247.1 204.7,249.9 204.8,251.1 204.9,252.8 205,252.4 205.1,251.8 205.1,254.2 205.2,254 205.3,253.7 205.4,248.8 205.5,247.4 205.6,248.8 205.7,246.3 205.7,246.5 205.8,247.4 205.9,249.4 206,250.2 206.1,248.6 206.2,249.5 206.3,246.3 206.4,245.4 206.4,233.4 206.5,242.2 206.6,231 206.7,215.5 206.8,218.8 206.9,231.3 207,221.4 207,234.7 207.1,230.9 207.2,237.6 207.3,237.7 207.4,237.2 207.5,240 207.6,242.5 207.6,234.7 207.7,244.1 207.8,247.5 207.9,243.9 208,245.4 208.1,245.5 208.2,245 208.2,247.3 208.3,248.2 208.4,248.1 208.5,247.4 208.6,246.8 208.7,247.5 208.8,247.1 208.8,247.2 208.9,242.9 209,235.2 209.1,237.1 209.2,241.7 209.3,243.4 209.4,241.4 209.4,242.3 209.5,245.3 209.6,246.1 209.7,248.8 209.8,249.3 209.9,250.1 210,251.9 210,253.3 210.1,253.8 210.2,251.1 210.3,255.2 210.4,256 210.5,256.5 210.6,256.2 210.6,256.8 210.7,255.8 210.8,257.4 210.9,256.5 211,257 211.1,257.5 211.2,257.9 211.3,257.2 211.3,257.1 211.4,256.7 211.5,256.8 211.6,255.8 211.7,256.5 211.8,256.2 211.9,257.4 211.9,257.2 212,258 212.1,257 212.2,258.1 212.3,257.7 212.4,255.3 212.5,254 212.5,251.5 212.6,247.7 212.7,242.3 212.8,240.8 212.9,244 213,242.7 213.1,245.6 213.1,248.2 213.2,250.1 213.3,251.3 213.4,251.8 213.5,254.1 213.6,252.4 213.7,253.9 213.7,254.5 213.8,254.8 213.9,254.9 214,256.8 214.1,256.8 214.2,258.3 214.3,256.9 214.3,257.5 214.4,256.9 214.5,258.4 214.6,258.3 214.7,257.9 214.8,258.6 214.9,258.3 214.9,258.4 215,258.9 215.1,258.5 215.2,259.6 215.3,258.9 215.4,259.3 215.5,258.9 215.5,254 215.6,255.6 215.7,256.2 215.8,257 215.9,257.3 216,257.7 216.1,257.9 216.2,258.8 216.2,258.3 216.3,259.1 216.4,259 216.5,258.9 216.6,259.1 216.7,259.5 216.8,259.5 216.8,259.5 216.9,259.5 217,259.3 217.1,259.8 217.2,259.5 217.3,259.5 217.4,259.5 217.4,259.6 217.5,256.7 217.6,256.1 217.7,256.6 217.8,257.2 217.9,257.3 218,258.7 218,258.1 218.1,258.7 218.2,258.9 218.3,257.2 218.4,257.9 218.5,257.7 218.6,258.1 218.6,258 218.7,256.2 218.8,255.6 218.9,256.8 219,257.4 219.1,257.8 219.2,258.1 219.2,258.5 219.3,258.5 219.4,258.5 219.5,258.6 219.6,257.9 219.7,257.8 219.8,255.5 219.8,255.8 219.9,255.8 220,256.8 220.1,257.6 220.2,258.3 220.3,257.3 220.4,257.8 220.4,257.4 220.5,258.1 220.6,258.1 220.7,258.5 220.8,258.4 220.9,258.2 221,258.8 221.1,258.8 221.1,259 221.2,258.6 221.3,259.1 221.4,259.2 221.5,259.3 221.6,259.3 221.7,258.9 221.7,258.4 221.8,259.3 221.9,258.9 222,259.1 222.1,259.4 222.2,259.2 222.3,259.2 222.3,259.3 222.4,258.8 222.5,259.6 222.6,259.2 222.7,259.2 222.8,259.4 222.9,259.3 222.9,259.2 223,259.3 223.1,259.3 223.2,259.3 223.3,259.8 223.4,258.1 223.5,258.1 223.5,258.6 223.6,258.8 223.7,259.5 223.8,257.2 223.9,258 224,257.5 224.1,257.6 224.1,258.5 224.2,258.7 224.3,259.4 224.4,259.3 224.5,257.7 224.6,258.5 224.7,259 224.7,258.7 224.8,259.7 224.9,259.9 225,260 225.1,259.9 225.2,259.9 225.3,260.3 225.3,260.5 225.4,260.5 225.5,260.4 225.6,260.7 225.7,260.5 225.8,260.2 225.9,259.9 226,260 226,260.1 226.1,260.1 226.2,260.5 226.3,260.3 226.4,260.6 226.5,260.6 226.6,260.6 226.6,260.6 226.7,260.7 226.8,260.8 226.9,260.7 227,260.4 227.1,260.4 227.2,260.5 227.2,260.4 227.3,260.6 227.4,260.5 227.5,258.5 227.6,259.2 227.7,257.8 227.8,257.9 227.8,257.3 227.9,257.6 228,257.6 228.1,258.2 228.2,258.2 228.3,258.7 228.4,259 228.4,259 228.5,259.2 228.6,259.5 228.7,257.4 228.8,257.5 228.9,256.8 229,257.2 229,258.5 229.1,258.5 229.2,258.7 229.3,258.8 229.4,259.1 229.5,259.2 229.6,259 229.6,259.2 229.7,259.5 229.8,259 229.9,259.1 230,258 230.1,257.9 230.2,258.5 230.2,258.2 230.3,258.7 230.4,258.2 230.5,258.2 230.6,258.5 230.7,258.3 230.8,258.4 230.9,258.6 230.9,258.8 231,259.5 231.1,258.7 231.2,259.2 231.3,258.8 231.4,258.6 231.5,258.6 231.5,258.8 231.6,258.8 231.7,258.9 231.8,259.1 231.9,259.1 232,257.6 232.1,257.4 232.1,255.5 232.2,258.2 232.3,258.7 232.4,258.8 232.5,259.1 232.6,259 232.7,259.1 232.7,259.3 232.8,259.6 232.9,259.7 233,259.2 233.1,259.7 233.2,259.7 233.3,259.4 233.3,259.6 233.4,259.7 233.5,259.9 233.6,259.4 233.7,259.8 233.8,259.8 233.9,259.9 233.9,260.1 234,259.9 234.1,259.7 234.2,259.7 234.3,259.8 234.4,260 234.5,260 234.5,259.8 234.6,260 234.7,259.5 234.8,259.4 234.9,259 235,259.4 235.1,258.5 235.1,258.7 235.2,259.4 235.3,258.8 235.4,258.8 235.5,258.6 235.6,258.6 235.7,258.7 235.8,258.8 235.8,258.8 235.9,258.6 236,259.2 236.1,259.1 236.2,253 236.3,251.9 236.4,253.5 236.4,254.9 236.5,256.5 236.6,256.5 236.7,257.2 236.8,257.4 236.9,257.8 237,252.4 237,248.5 237.1,241.7 237.2,243.1 237.3,247.2 237.4,249.8 237.5,251.2 237.6,251.2 237.6,250.6 237.7,251.6 237.8,253.3 237.9,254.8 238,254.3 238.1,255.9 238.2,255.6 238.2,256.1 238.3,257.2 238.4,256 238.5,256.3 238.6,256.7 238.7,257.2 238.8,255.4 238.8,256.3 238.9,256.4 239,257 239.1,256.9 239.2,257.3 239.3,257.2 239.4,257.1 239.4,257.4 239.5,257.7 239.6,257.9 239.7,246.5 239.8,251.2 239.9,256.7 240,256.2 240,257.6 240.1,256.9 240.2,251.7 240.3,252.6 240.4,253.8 240.5,256.1 240.6,255.4 240.7,256.3 240.7,255.9 240.8,256.9 240.9,252.5 241,253.4 241.1,254.2 241.2,255.4 241.3,255.7 241.3,256.7 241.4,256.6 241.5,256.5 241.6,256.3 241.7,257 241.8,257.3 241.9,257.1 241.9,257.2 242,257.1 242.1,257.3 242.2,252.8 242.3,253.4 242.4,254.1 242.5,254.6 242.5,255.2 242.6,253.8 242.7,253.6 242.8,244.9 242.9,247.6 243,235.6 243.1,230.7 243.1,232.9 243.2,232.9 243.3,237.2 243.4,236.9 243.5,242.8 243.6,241.5 243.7,245.1 243.7,241.4 243.8,250.1 243.9,247.2 244,250 244.1,251.4 244.2,253.4 244.3,252.6 244.3,255.7 244.4,256.1 244.5,254.2 244.6,257 244.7,254.4 244.8,256.7 244.9,256.6 245,257.1 245,257.1 245.1,257.9 245.2,258.2 245.3,258.3 245.4,257.7 245.5,255.7 245.6,256.5 245.6,257.2 245.7,257.5 245.8,258.3 245.9,258.2 246,258.7 246.1,259 246.2,259.2 246.2,259.3 246.3,259.3 246.4,259.4 246.5,259.6 246.6,259.6 246.7,259.9 246.8,259.7 246.8,260 246.9,260.3 247,259.9 247.1,258.8 247.2,259.3 247.3,259.4 247.4,259.7 247.4,259.1 247.5,259.4 247.6,259.9 247.7,259.7 247.8,260 247.9,259.7 248,260.2 248,260.4 248.1,260.2 248.2,260.3 248.3,257.7 248.4,258.6 248.5,258.3 248.6,258.3 248.6,259.4 248.7,259 248.8,259.5 248.9,258.9 249,259.5 249.1,259.7 249.2,259.6 249.2,259.8 249.3,259.3 249.4,259.2 249.5,259.6 249.6,259.9 249.7,259.2 249.8,259.8 249.9,259.8 249.9,259.7 250,260 250.1,260 250.2,259.8 250.3,259.8 250.4,259.7 250.5,259.4 250.5,259.7 250.6,259.4 250.7,259.4 250.8,259.6 250.9,257 251,257.8 251.1,255.6 251.1,256.5 251.2,257.1 251.3,254.1 251.4,254.1 251.5,255.3 251.6,255.1 251.7,256 251.7,256.7 251.8,256.4 251.9,252.6 252,254.3 252.1,254 252.2,253.2 252.3,254.1 252.3,254.5 252.4,255 252.5,255.5 252.6,255.4 252.7,255.1 252.8,255.7 252.9,256.8 252.9,256.4 253,257.4 253.1,257.5 253.2,257.5 253.3,257.9 253.4,255.8 253.5,257.2 253.5,255.9 253.6,255.6 253.7,256.9 253.8,257.4 253.9,258.5 254,257.6 254.1,257.9 254.1,258.2 254.2,258.3 254.3,258.2 254.4,258.8 254.5,258.7 254.6,259.2 254.7,259.2 254.8,258.9 254.8,259.1 254.9,259.6 255,257.4 255.1,257.5 255.2,258.1 255.3,258.1 255.4,258.7 255.4,259.2 255.5,259.3 255.6,258.9 255.7,256.6 255.8,256.5 255.9,257.3 256,258 256,259 256.1,259.2 256.2,259.4 256.3,259.4 256.4,259.9 256.5,260.2 256.6,260.1 256.6,260.2 256.7,260.5 256.8,260.7 256.9,259.9 257,257.6 257.1,257.9 257.2,259.1 257.2,259.2 257.3,258.4 257.4,259.2 257.5,257.9 257.6,258.5 257.7,259.1 257.8,259.3 257.8,259.9 257.9,259.9 258,259.9 258.1,260.1 258.2,260 258.3,260.4 258.4,260.4 258.4,260.2 258.5,260.2 258.6,259.9 258.7,260.1 258.8,260.3 258.9,258.5 259,259.1 259,259 259.1,258.2 259.2,259 259.3,259 259.4,259.2 259.5,257.8 259.6,258.5 259.7,258.4 259.7,259.1 259.8,259.3 259.9,258.7 260,258.8 260.1,259.1 260.2,253.7 260.3,254.5 260.3,255.6 260.4,255.1 260.5,256 260.6,254.4 260.7,256.1 260.8,257 260.9,257.4 260.9,257.6 261,258.3 261.1,258 261.2,257.6 261.3,258.5 261.4,255.5 261.5,255.5 261.5,256 261.6,256.5 261.7,257.6 261.8,257.1 261.9,257.9 262,257.9 262.1,257.7 262.1,257.5 262.2,257.4 262.3,256.8 262.4,257.8 262.5,258 262.6,258.6 262.7,258.6 262.7,258.8 262.8,258.8 262.9,259 263,258.9 263.1,258.9 263.2,259.2 263.3,259.3 263.3,259.4 263.4,259.1 263.5,259.2 263.6,259.1 263.7,259.2 263.8,259.5 263.9,259.4 263.9,259.8 264,259.2 264.1,259.5 264.2,259.8 264.3,260 264.4,259.8 264.5,258.7 264.6,258.9 264.6,258.9 264.7,259.4 264.8,259.7 264.9,259.7 265,259.5 265.1,259.6 265.2,259.9 265.2,260.2 265.3,260.1 265.4,260.5 265.5,260.2 265.6,260.6 265.7,260.4 265.8,260.8 265.8,260.7 265.9,260.9 266,261 266.1,260.9 266.2,260.9 266.3,261.1 266.4,260.9 266.4,261.1 266.5,261.1 266.6,261.1 266.7,261.1 266.8,261.4 266.9,261.2 267,261.3 267,261.4 267.1,261.4 267.2,261.5 267.3,261.5 267.4,261.4 267.5,261.2 267.6,261.4 267.6,261.3 267.7,260.7 267.8,261 267.9,261.2 268,261.1 268.1,261.2 268.2,261.3 268.2,260.2 268.3,260.6 268.4,260.7 268.5,260.8 268.6,261 268.7,261 268.8,261.1 268.8,261.2 268.9,261.2 269,261.3 269.1,261.4 269.2,261.3 269.3,261.4 269.4,261.4 269.5,261.3 269.5,261.4 269.6,261.4 269.7,261.3 269.8,261.3 269.9,261.3 270,261.2 270.1,261.2 270.1,261.3 270.2,260.5 270.3,260.3 270.4,260.7 270.5,260.6 270.6,260.6 270.7,260.6 270.7,260.9 270.8,260.6 270.9,260.4 271,260.5 271.1,260.6 271.2,260.5 271.3,260.5 271.3,260.6 271.4,260.4 271.5,260.6 271.6,260.6 271.7,260.3 271.8,260.3 271.9,260.2 271.9,260.4 272,259.6 272.1,258.9 272.2,257.7 272.3,257.2 272.4,255.4 272.5,251.9 272.5,254.1 272.6,253.5 272.7,253.6 272.8,254 272.9,254.8 273,254.7 273.1,255.3 273.1,255.9 273.2,257.1 273.3,253.8 273.4,253.6 273.5,255.5 273.6,254 273.7,252.9 273.7,252.6 273.8,255.3 273.9,256.7 274,256.7 274.1,253.8 274.2,253.2 274.3,252.7 274.4,253.7 274.4,254.7 274.5,255.1 274.6,255.1 274.7,255.4 274.8,256.2 274.9,255.3 275,256.6 275,257.6 275.1,257.9 275.2,254 275.3,255.4 275.4,255.7 275.5,256.2 275.6,256.1 275.6,257 275.7,257.5 275.8,258 275.9,258.1 276,258 276.1,258 276.2,257.8 276.2,258.5 276.3,258.2 276.4,258.5 276.5,258.7 276.6,259.2 276.7,259.2 276.8,258.7 276.8,257.5 276.9,258.1 277,258.2 277.1,257.8 277.2,258.1 277.3,257.6 277.4,257.4 277.4,258 277.5,258.4 277.6,258.6 277.7,257.2 277.8,257.6 277.9,258.2 278,257.3 278,258.1 278.1,258.4 278.2,258.2 278.3,258.5 278.4,258.9 278.5,258.8 278.6,259.3 278.6,259.3 278.7,259.7 278.8,258 278.9,256.5 279,256.4 279.1,257.7 279.2,258.2 279.3,258.5 279.3,258.7 279.4,258.9 279.5,258.9 279.6,259.4 279.7,258.7 279.8,259.3 279.9,259.3 279.9,258.9 280,259.3 280.1,258.3 280.2,258.7 280.3,258.9 280.4,259.2 280.5,259.6 280.5,259.8 280.6,259.8 280.7,260.3 280.8,260.2 280.9,260 281,260.7 281.1,260.5 281.1,260.4 281.2,260.7 281.3,260.2 281.4,260.8 281.5,260.4 281.6,260.4 281.7,260.5 281.7,260.6 281.8,260.6 281.9,259.7 282,259.6 282.1,260.1 282.2,260.1 282.3,260 282.3,259.4 282.4,259.6 282.5,258.2 282.6,259 282.7,258.8 282.8,259.3 282.9,259.9 282.9,259.8 283,260.1 283.1,260.2 283.2,260.1 283.3,260.3 283.4,260.1 283.5,260.4 283.6,260.1 283.6,260.3 283.7,260.2 283.8,260.4 283.9,260.4 284,260.4 284.1,259.4 284.2,259.5 284.2,259.3 284.3,259.6 284.4,259.8 284.5,259.9 284.6,259.8 284.7,259.9 284.8,259.7 284.8,259.8 284.9,260.1 285,260.1 285.1,259.7 285.2,259.9 285.3,256.2 285.4,256.2 285.4,255.3 285.5,255.9 285.6,256.7 285.7,257.8 285.8,257.4 285.9,258.4 286,258.6 286,255.2 286.1,254.6 286.2,255.9 286.3,255 286.4,255.9 286.5,255.2 286.6,256 286.6,255.3 286.7,255.4 286.8,256.3 286.9,256.3 287,255.9 287.1,256.6 287.2,257.6 287.2,258.3 287.3,258.2 287.4,257.9 287.5,259.1 287.6,259.1 287.7,259.6 287.8,259.8 287.8,260.2 287.9,260.6 288,260.8 288.1,260.6 288.2,260.9 288.3,261.2 288.4,261.1 288.5,261.3 288.5,261.4 288.6,261.5 288.7,261.5 288.8,261.4 288.9,261.5 289,261.5 289.1,261.6 289.1,261.6 289.2,260.5 289.3,260.3 289.4,260.6 289.5,260.8 289.6,260.9 289.7,261 289.7,261.1 289.8,261.3 289.9,261.3 290,261.2 290.1,261.5 290.2,261.5 290.3,261.5 290.3,261.5 290.4,261.6 290.5,261.7 290.6,261.6 290.7,261.7 290.8,261.7 290.9,261.7 290.9,261.7 291,261.6 291.1,261.6 291.2,261.7 291.3,261.6 291.4,261.6 291.5,261.6 291.5,261.7 291.6,261.7 291.7,261.5 291.8,261.6 291.9,261.3 292,261.3 292.1,261 292.1,261.1 292.2,261 292.3,261.3 292.4,261.1 292.5,260.9 292.6,260.7 292.7,260.8 292.7,260.7 292.8,258.1 292.9,259.1 293,258.6 293.1,259.1 293.2,258.8 293.3,259.2 293.4,259.4 293.4,259.3 293.5,259.5 293.6,259.9 293.7,260 293.8,260.1 293.9,260.2 294,260.4 294,258.3 294.1,259 294.2,259.5 294.3,259.1 294.4,259.6 294.5,259.6 294.6,259.8 294.6,258.8 294.7,259.1 294.8,259.5 294.9,259.5 295,259.3 295.1,257.3 295.2,256.4 295.2,256.8 295.3,258 295.4,258.6 295.5,258.1 295.6,259.1 295.7,258.9 295.8,259.5 295.8,259.7 295.9,259.7 296,259.7 296.1,259.6 296.2,259.7 296.3,259.7 296.4,255.9 296.4,255.7 296.5,256.3 296.6,257.2 296.7,257.3 296.8,257.1 296.9,257.5 297,257.5 297,257.8 297.1,257.7 297.2,257.5 297.3,257.3 297.4,257.6 297.5,256.1 297.6,253.8 297.6,252.6 297.7,254.6 297.8,255.4 297.9,256.3 298,257.5 298.1,256.8 298.2,256.9 298.3,256.4 298.3,257.8 298.4,256.7 298.5,254.9 298.6,254.9 298.7,256.8 298.8,256 298.9,256.5 298.9,256.3 299,256.7 299.1,257.4 299.2,256.7 299.3,257 299.4,252.3 299.5,253.2 299.5,254.1 299.6,255.4 299.7,256.5 299.8,256.9 299.9,256.1 300,255 300.1,255.7 300.1,256.3 300.2,256.4 300.3,256.7 300.4,257 300.5,257.3 300.6,256.4 300.7,257.2 300.7,257.6 300.8,250.5 300.9,251.3 301,246.9 301.1,246.9 301.2,249.1 301.3,250.5 301.3,251 301.4,251 301.5,249.8 301.6,241.9 301.7,241.6 301.8,231.7 301.9,208.8 301.9,193 302,160 302.1,162 302.2,186.2 302.3,197.7 302.4,190.7 302.5,196.3 302.5,205.4 302.6,215.1 302.7,207 302.8,211.5 302.9,218.5 303,220.7 303.1,223.9 303.2,228.4 303.2,241.4 303.3,246.6 303.4,239.7 303.5,245.5 303.6,247.5 303.7,249.1 303.8,246.4 303.8,249.7 303.9,246.8 304,247.7 304.1,248 304.2,251.6 304.3,252.6 304.4,251.9 304.4,253.7 304.5,252 304.6,248.1 304.7,255.4 304.8,254.6 304.9,254.3 305,254.5 305,256.1 305.1,255.6 305.2,256.8 305.3,256.5 305.4,255.6 305.5,255.1 305.6,257.1 305.6,256.7 305.7,252.7 305.8,254.8 305.9,250.7 306,249.8 306.1,250.7 306.2,251.5 306.2,250.7 306.3,247.1 306.4,249.9 306.5,251.7 306.6,252.7 306.7,253.7 306.8,255.4 306.8,253.9 306.9,254.9 307,256.3 307.1,251.5 307.2,248.4 307.3,249.1 307.4,248.8 307.4,251 307.5,252.3 307.6,252.5 307.7,249.8 307.8,253.6 307.9,253.5 308,254.6 308.1,255.2 308.1,255.7 308.2,256.3 308.3,256 308.4,256.7 308.5,257.1 308.6,256.9 308.7,257.2 308.7,257.5 308.8,254.2 308.9,254.3 309,255.7 309.1,256.4 309.2,251.1 309.3,252.1 309.3,253.4 309.4,253.7 309.5,252.6 309.6,254.9 309.7,254.6 309.8,255 309.9,255.9 309.9,256.8 310,253 310.1,255.2 310.2,256.3 310.3,256.9 310.4,253.8 310.5,254.4 310.5,255.2 310.6,256.4 310.7,256.2 310.8,256.8 310.9,257.5 311,257.8 311.1,258.6 311.1,256.1 311.2,256.6 311.3,257.5 311.4,257.8 311.5,258.6 311.6,259 311.7,259.1 311.7,257.5 311.8,257.3 311.9,258.3 312,258.2 312.1,259 312.2,258.8 312.3,259.3 312.3,259.6 312.4,259.5 312.5,259.9 312.6,259 312.7,259.4 312.8,259.3 312.9,259.5 313,259.7 313,259.8 313.1,259.6 313.2,259.7 313.3,259.8 313.4,259.5 313.5,259.5 313.6,259.3 313.6,259.8 313.7,259.6 313.8,259.5 313.9,259.6 314,259.4 314.1,259.9 314.2,259.6 314.2,259.8 314.3,259.5 314.4,257.6 314.5,257.6 314.6,258.4 314.7,258.9 314.8,259.1 314.8,259.1 314.9,259.3 315,259 315.1,259.1 315.2,259.4 315.3,259.7 315.4,259.6 315.4,259.7 315.5,259.3 315.6,259.6 315.7,259.6 315.8,259.8 315.9,260.1 316,259.7 316,259.8 316.1,259.6 316.2,259.7 316.3,259.9 316.4,259.9 316.5,259.6 316.6,260 316.6,260.1 316.7,260 316.8,260.1 316.9,259.7 317,259.6 317.1,259.4 317.2,260.1 317.2,259.9 317.3,260 317.4,260 317.5,260.1 317.6,260.2 317.7,260 317.8,260.3 317.9,260.3 317.9,260.3 318,260.3 318.1,260.4 318.2,258.7 318.3,259.3 318.4,259.2 318.5,259.6 318.5,260 318.6,260.1 318.7,260.3 318.8,260.3 318.9,260.6 319,260.4 319.1,257.8 319.1,258.5 319.2,259.6 319.3,259.4 319.4,260 319.5,260.3 319.6,260.4 319.7,260.7 319.7,260.9 319.8,260.7 319.9,260.1 320,260.2 320.1,260.2 320.2,260.6 320.3,260.6 320.3,260.6 320.4,260.4 320.5,260.8 320.6,260.7 320.7,258 320.8,258.2 320.9,258.8 320.9,258.6 321,258.9 321.1,259 321.2,259 321.3,259.1 321.4,259.3 321.5,259.4 321.5,258.8 321.6,258.8 321.7,258.9 321.8,259.2 321.9,259.2 322,259.5 322.1,259.1 322.1,259 322.2,259.5 322.3,259.4 322.4,259.6 322.5,259.3 322.6,259.5 322.7,259.5 322.8,254 322.8,254.4 322.9,254.3 323,253.3 323.1,254.1 323.2,253.4 323.3,254.6 323.4,255.2 323.4,256.5 323.5,256.8 323.6,258 323.7,258 323.8,258.6 323.9,258.8 324,258.4 324,258.4 324.1,259.4 324.2,258.9 324.3,259.5 324.4,259.1 324.5,259.9 324.6,259.8 324.6,260 324.7,259.6 324.8,257 324.9,257.3 325,258.2 325.1,259 325.2,259 325.2,259.1 325.3,258.6 325.4,258.6 325.5,259.2 325.6,259.3 325.7,259.5 325.8,259.5 325.8,258.4 325.9,258.9 326,259.2 326.1,259.5 326.2,259.6 326.3,259.3 326.4,259.9 326.4,259.9 326.5,259.8 326.6,259.8 326.7,259.4 326.8,260.2 326.9,259.7 327,259.7 327.1,260 327.1,259.2 327.2,258.2 327.3,258.2 327.4,258.5 327.5,258.9 327.6,257.6 327.7,257.8 327.7,258.6 327.8,259.2 327.9,258.5 328,259 328.1,258.8 328.2,259.1 328.3,259.3 328.3,259.3 328.4,258.9 328.5,259 328.6,259.7 328.7,259.5 328.8,259 328.9,259.4 328.9,256.2 329,256 329.1,256.8 329.2,256.3 329.3,255.1 329.4,255.9 329.5,256.7 329.5,257 329.6,257.8 329.7,258 329.8,258.2 329.9,258 330,258 330.1,258.3 330.1,258.3 330.2,258 330.3,258 330.4,258.3 330.5,258 330.6,256.4 330.7,257.2 330.7,257.5 330.8,257.2 330.9,257.5 331,255.5 331.1,256.6 331.2,257.1 331.3,256.6 331.3,256.7 331.4,256.9 331.5,257.8 331.6,257.1 331.7,257.7 331.8,257.5 331.9,257.5 332,257.9 332,256.9 332.1,249.8 332.2,248.7 332.3,249.5 332.4,247.2 332.5,248.7 332.6,249.6 332.6,251.4 332.7,253.1 332.8,253.4 332.9,254 333,254.1 333.1,254.9 333.2,256 333.2,255.9 333.3,251.8 333.4,246 333.5,230.7 333.6,218.5 333.7,227.5 333.8,241.1 333.8,229.4 333.9,243.1 334,242.8 334.1,248.6 334.2,249.9 334.3,250.3 334.4,249.3 334.4,250.8 334.5,254.1 334.6,253.6 334.7,255.5 334.8,255.7 334.9,256.3 335,256.4 335,257.5 335.1,257.8 335.2,258 335.3,256.2 335.4,256.4 335.5,257.2 335.6,257 335.6,256.8 335.7,257 335.8,257.4 335.9,257.4 336,257.8 336.1,257 336.2,257.3 336.2,256.1 336.3,250.2 336.4,250 336.5,239 336.6,224.6 336.7,232.5 336.8,238.4 336.9,237.9 336.9,240.9 337,248.8 337.1,249.9 337.2,246.9 337.3,250.6 337.4,251.7 337.5,254.3 337.5,255 337.6,254.9 337.7,256.6 337.8,257.5 337.9,257.2 338,257 338.1,257.7 338.1,257.7 338.2,258.2 338.3,256.1 338.4,255 338.5,256 338.6,255.9 338.7,256.9 338.7,257.2 338.8,257.7 338.9,257.6 339,257 339.1,254.1 339.2,254.7 339.3,255.3 339.3,256.2 339.4,256.5 339.5,253.8 339.6,254.2 339.7,254.6 339.8,250 339.9,247.5 339.9,245 340,233.2 340.1,232.3 340.2,219.4 340.3,225.3 340.4,227.7 340.5,232.7 340.5,224.1 340.6,236.2 340.7,235.4 340.8,242.7 340.9,241.6 341,242.6 341.1,244 341.1,246 341.2,245.3 341.3,242.5 341.4,248.1 341.5,249.1 341.6,250.4 341.7,244.6 341.8,248 341.8,250.9 341.9,251.3 342,254 342.1,253.7 342.2,253.7 342.3,254.3 342.4,254.1 342.4,255 342.5,249.6 342.6,252.6 342.7,253.1 342.8,254.2 342.9,255.6 343,256.3 343,256.9 343.1,255.8 343.2,257.1 343.3,257.4 343.4,258.1 343.5,258 343.6,256.7 343.6,258.5 343.7,258.4 343.8,258.6 343.9,258.2 344,258.2 344.1,258.5 344.2,259.1 344.2,259.1 344.3,258.6 344.4,258.9 344.5,258.9 344.6,255.1 344.7,256.5 344.8,256.2 344.8,256.9 344.9,254.9 345,256.1 345.1,256.1 345.2,257 345.3,256.7 345.4,256.9 345.4,257.2 345.5,257.4 345.6,255.2 345.7,257 345.8,255.9 345.9,255.6 346,255.9 346,256.4 346.1,255.5 346.2,255.7 346.3,255.7 346.4,255.7 346.5,256.9 346.6,257.3 346.7,256.6 346.7,257.6 346.8,256.7 346.9,257.6 347,258 347.1,257.4 347.2,253.7 347.3,256.1 347.3,255.3 347.4,256.6 347.5,251.4 347.6,254 347.7,255.6 347.8,255.4 347.9,255.8 347.9,255.8 348,256.3 348.1,257.1 348.2,257.7 348.3,258 348.4,256.9 348.5,257.5 348.5,257.6 348.6,257.9 348.7,256.9 348.8,257.4 348.9,256.8 349,257.7 349.1,254.2 349.1,254.8 349.2,255.4 349.3,256.2 349.4,257.4 349.5,256.9 349.6,257.7 349.7,258.7 349.7,258.7 349.8,256.8 349.9,257.5 350,258 350.1,258.8 350.2,259.1 350.3,259.2 350.3,259.3 350.4,259.9 350.5,260.1 350.6,260 350.7,260.4 350.8,260.3 350.9,260.5 350.9,260.6 351,260.6 351.1,260.8 351.2,260.8 351.3,261 351.4,261.1 351.5,261 351.6,260.9 351.6,260.9 351.7,260.8 351.8,261 351.9,261 352,260.9 352.1,260.9 352.2,260.9 352.2,259 352.3,258.6 352.4,259.2 352.5,258.9 352.6,259.4 352.7,257.8 352.8,257.7 352.8,257.5 352.9,258.5 353,257.6 353.1,257.4 353.2,256.5 353.3,254 353.4,254 353.4,255 353.5,254.5 353.6,255.2 353.7,256.5 353.8,256.3 353.9,257.3 354,257.6 354,257.6 354.1,258 354.2,257.2 354.3,258.2 354.4,257.6 354.5,257.6 354.6,258.1 354.6,258.2 354.7,257.6 354.8,256.6 354.9,256.6 355,256.6 355.1,257.4 355.2,257.8 355.2,258.4 355.3,257.7 355.4,255.1 355.5,255.2 355.6,255.8 355.7,256.9 355.8,256 355.8,253.8 355.9,254.3 356,256 356.1,256.1 356.2,256.6 356.3,256.9 356.4,257.4 356.5,252.6 356.5,253.9 356.6,251.4 356.7,252.7 356.8,252.5 356.9,254.1 357,256.1 357.1,255.7 357.1,255.9 357.2,255.8 357.3,252.2 357.4,253.1 357.5,254.2 357.6,254.1 357.7,255.3 357.7,255.2 357.8,254.9 357.9,254.8 358,255.9 358.1,256.8 358.2,256.2 358.3,257 358.3,256.9 358.4,257.1 358.5,257 358.6,257.2 358.7,257.8 358.8,257.8 358.9,257.2 358.9,255.9 359,253.9 359.1,250.2 359.2,250.4 359.3,243.7 359.4,245 359.5,248.6 359.5,246.2 359.6,248.2 359.7,252.7 359.8,249.6 359.9,254.5 360,251.5 360.1,253.6 360.1,254.3 360.2,253 360.3,247.4 360.4,250.5 360.5,253.1 360.6,252.9 360.7,253.2 360.7,248.1 360.8,250.7 360.9,251.7 361,253.1 361.1,253 361.2,253.5 361.3,249.7 361.4,252.5 361.4,253 361.5,253 361.6,254.5 361.7,254.9 361.8,254.3 361.9,255.8 362,255.8 362,256.7 362.1,256.7 362.2,257.6 362.3,257.1 362.4,256.8 362.5,256.6 362.6,257 362.6,254.7 362.7,255.5 362.8,256.1 362.9,256.2 363,256.2 363.1,257 363.2,256.5 363.2,257.4 363.3,256.3 363.4,256.5 363.5,257.1 363.6,257.4 363.7,256.8 363.8,254.6 363.8,253.8 363.9,251.8 364,248.8 364.1,244.9 364.2,238 364.3,226.6 364.4,229.6 364.4,229.1 364.5,231.7 364.6,240.5 364.7,243 364.8,240.3 364.9,248.8 365,247 365,248 365.1,250.7 365.2,251.4 365.3,249.9 365.4,254 365.5,253.7 365.6,254 365.6,253.6 365.7,255.9 365.8,253.5 365.9,255.7 366,256.1 366.1,256.5 366.2,257.2 366.3,257.7 366.3,256.2 366.4,257.4 366.5,257.9 366.6,257.3 366.7,258.1 366.8,257.5 366.9,258.4 366.9,257.6 367,258.4 367.1,258.1 367.2,257.8 367.3,257.9 367.4,258 367.5,258.5 367.5,257.9 367.6,258.3 367.7,257.2 367.8,258.1 367.9,258 368,258.3 368.1,258.1 368.1,258.4 368.2,257.7 368.3,258.1 368.4,257.9 368.5,258.2 368.6,258.2 368.7,257.6 368.7,258.3 368.8,258.5 368.9,257.9 369,258.3 369.1,258.2 369.2,257.8 369.3,253.7 369.3,253.8 369.4,255.5 369.5,255.1 369.6,255.8 369.7,257 369.8,257.2 369.9,255 369.9,255.3 370,255.6 370.1,254.6 370.2,252 370.3,249.8 370.4,253.1 370.5,250.7 370.6,254.5 370.6,253.8 370.7,251.1 370.8,255.4 370.9,252.7 371,255.5 371.1,255.2 371.2,254.9 371.2,256.7 371.3,257.1 371.4,257.3 371.5,258.2 371.6,258.2 371.7,258 371.8,258.5 371.8,254.9 371.9,256.3 372,256.9 372.1,257.7 372.2,257.8 372.3,256.7 372.4,257.8 372.4,258.5 372.5,256.1 372.6,256.8 372.7,258 372.8,258.7 372.9,258.9 373,258.7 373,259.4 373.1,259 373.2,256.5 373.3,256.7 373.4,257.7 373.5,256.9 373.6,257.6 373.6,256.9 373.7,256.5 373.8,257.5 373.9,258.3 374,258.5 374.1,258.4 374.2,259 374.2,258.8 374.3,259.2 374.4,259.3 374.5,259.4 374.6,259.5 374.7,259.9 374.8,259.6 374.8,257.6 374.9,259 375,258 375.1,258 375.2,258.7 375.3,259.1 375.4,258.4 375.5,258.2 375.5,258.4 375.6,258.6 375.7,259.1 375.8,259.1 375.9,259.7 376,259.3 376.1,259.6 376.1,259.6 376.2,255.2 376.3,256.1 376.4,257 376.5,256.9 376.6,258.1 376.7,258.7 376.7,258.8 376.8,259.4 376.9,259.3 377,259.4 377.1,259.7 377.2,259.7 377.3,259.9 377.3,259.9 377.4,260.2 377.5,260 377.6,260.2 377.7,260.2" fill="none" stroke="none" marker-start="url(#pd)" marker-mid="url(#pd)" marker-end="url(#pd)"/></g>
<rect x="32.4" y="149.4" width="346.1" height="112.8" fill="none" stroke="#555" stroke-width="1.05"/>
<text x="29.4" y="264.2" font-size="9.2" text-anchor="end" textLength="3.9" lengthAdjust="spacingAndGlyphs">0</text>
<text x="29.4" y="241.7" font-size="9.2" text-anchor="end" textLength="11.7" lengthAdjust="spacingAndGlyphs">100</text>
<text x="29.4" y="219.1" font-size="9.2" text-anchor="end" textLength="11.7" lengthAdjust="spacingAndGlyphs">200</text>
<text x="29.4" y="196.5" font-size="9.2" text-anchor="end" textLength="11.7" lengthAdjust="spacingAndGlyphs">300</text>
<text x="29.4" y="174" font-size="9.2" text-anchor="end" textLength="11.7" lengthAdjust="spacingAndGlyphs">400</text>
<text x="29.4" y="151.4" font-size="9.2" text-anchor="end" textLength="11.7" lengthAdjust="spacingAndGlyphs">500</text>
<text x="32.4" y="272.8" font-size="9.2" text-anchor="middle" textLength="33" lengthAdjust="spacingAndGlyphs">2008/1/1</text>
<text x="95.2" y="272.8" font-size="9.2" text-anchor="middle" textLength="33" lengthAdjust="spacingAndGlyphs">2010/1/1</text>
<text x="157.9" y="272.8" font-size="9.2" text-anchor="middle" textLength="33" lengthAdjust="spacingAndGlyphs">2012/1/1</text>
<text x="220.8" y="272.8" font-size="9.2" text-anchor="middle" textLength="33" lengthAdjust="spacingAndGlyphs">2014/1/1</text>
<text x="283.6" y="272.8" font-size="9.2" text-anchor="middle" textLength="33" lengthAdjust="spacingAndGlyphs">2016/1/1</text>
<text x="346.4" y="272.8" font-size="9.2" text-anchor="middle" textLength="33" lengthAdjust="spacingAndGlyphs">2018/1/1</text>
<path d="M32.4 239.7h3.3M32.4 217.1h3.3M32.4 194.5h3.3M32.4 172h3.3M95.2 262.2v-3.3M157.9 262.2v-3.3M220.8 262.2v-3.3M283.6 262.2v-3.3M346.4 262.2v-3.3" stroke="#555" stroke-width="0.85" fill="none"/>
<text x="205.4" y="284" font-size="10" text-anchor="middle" textLength="38.2" lengthAdjust="spacingAndGlyphs" font-weight="bold" fill="#000" stroke="#000">Date/day</text>
<path d="M145.5 158.4H169.8" stroke="#1a1aff" stroke-width="0.85"/>
<text x="171.8" y="162.8" font-size="10" textLength="45" lengthAdjust="spacingAndGlyphs">Simulation</text>
<path d="M228 159H230.8M229.4 157.6V160.4" stroke="#ff4040" stroke-width="0.6"/>
<text x="244" y="162.8" font-size="10" textLength="50.5" lengthAdjust="spacingAndGlyphs">Observation</text>
<text transform="translate(12 175) rotate(-90)" font-size="10.5" font-weight="bold" fill="#000" stroke="#000" lengthAdjust="spacingAndGlyphs" textLength="53.3">Streamflow/</text>
<text transform="translate(12 121.7) rotate(-90)" font-size="10.5" font-weight="bold" fill="#000" stroke="#000" lengthAdjust="spacingAndGlyphs" textLength="35.1">(m<tspan font-size="6.8" dy="-3.8">3</tspan><tspan dy="3.8">·s</tspan><tspan font-size="6.8" dy="-3.8">−1</tspan><tspan dy="3.8">)</tspan></text>
<text transform="translate(396 173) rotate(-90)" font-size="10.5" font-weight="bold" fill="#000" stroke="#000" lengthAdjust="spacingAndGlyphs" textLength="51.3">Simulation/</text>
<text transform="translate(396 121.7) rotate(-90)" font-size="10.5" font-weight="bold" fill="#000" stroke="#000" lengthAdjust="spacingAndGlyphs" textLength="36.1">(m<tspan font-size="6.8" dy="-3.8">3</tspan><tspan dy="3.8">·s</tspan><tspan font-size="6.8" dy="-3.8">−1</tspan><tspan dy="3.8">)</tspan></text>
<g clip-path="url(#k3)"><polyline points="468.3,67.4 473.9,66.2 479.3,77.8 468.1,77.1 469.2,88.8 452.6,81.6 457.3,86.6 438.8,87.7 449.2,94.1 446.2,95.2 437.3,96.3 437.9,99.2 428.3,102.6 436.2,104.7 449.2,103.7 450.7,106 436.2,107.6 451.2,110.1 444.1,110.5 446.2,111.6 430.9,110.3 429.4,110.9 437.3,112.5 430.1,114.3 419.8,113.7 418.6,114.8 427.9,116.2 442.2,116.6 429.4,118.4 433.9,120.7 417.5,119.9 516.1,60.2 535.1,39.3" fill="none" stroke="none" marker-start="url(#c1)" marker-mid="url(#c1)" marker-end="url(#c1)"/></g>
<path d="M417.2 122.8L540.2 10.3" stroke="#222" stroke-width="0.9"/>
<rect x="417.2" y="10.3" width="123.1" height="112.5" fill="none" stroke="#555" stroke-width="1.05"/>
<text x="412.6" y="125" font-size="9.2" text-anchor="end">0</text>
<text x="417.2" y="133.3" font-size="9.3" text-anchor="middle">0</text>
<text x="412.6" y="106.2" font-size="9.2" text-anchor="end">20</text>
<text x="437.7" y="133.3" font-size="9.3" text-anchor="middle">20</text>
<text x="412.6" y="87.5" font-size="9.2" text-anchor="end">40</text>
<text x="458.2" y="133.3" font-size="9.3" text-anchor="middle">40</text>
<text x="412.6" y="68.7" font-size="9.2" text-anchor="end">60</text>
<text x="478.7" y="133.3" font-size="9.3" text-anchor="middle">60</text>
<text x="412.6" y="50" font-size="9.2" text-anchor="end">80</text>
<text x="499.2" y="133.3" font-size="9.3" text-anchor="middle">80</text>
<text x="412.6" y="31.2" font-size="9.2" text-anchor="end">100</text>
<text x="519.7" y="133.3" font-size="9.3" text-anchor="middle">100</text>
<text x="412.6" y="12.5" font-size="9.2" text-anchor="end">120</text>
<text x="540.2" y="133.3" font-size="9.3" text-anchor="middle">120</text>
<path d="M417.2 104h3.3M437.7 122.8v-3.3M417.2 85.3h3.3M458.2 122.8v-3.3M417.2 66.5h3.3M478.7 122.8v-3.3M417.2 47.8h3.3M499.2 122.8v-3.3M417.2 29h3.3M519.7 122.8v-3.3" stroke="#555" stroke-width="0.85" fill="none"/>
<g clip-path="url(#k4)"><polyline points="528.4,181.9 526,182.6 500,185.7 487.7,185.7 489.3,191.8 479,199.3 468.4,195 465.1,207.4 454.3,208.1 451.8,213.7 445.2,220.7 448.9,224.8 447.5,225.7 444.3,227.5 441.3,229.5 464,225.5 463,228.2 441.3,231.3 447.2,230.9 459.3,232.9 458.3,236.3 465.2,235.4 458.3,241.7 456.1,242.2 450.9,236.3 450.4,238.8 448,239.7 448.7,241.5 446.5,242.2 445.5,244.6 438.1,237.2 437.1,240.1 433.1,242.2 423.1,242.2 441.3,243 448.9,248 446.4,249.6 443,250.5 441.3,251.3 417.7,255.8 421.5,258.3 439.7,235.2 418.1,257 422.2,253.6 419.3,255.9 421.5,259.8 423.1,259 418.2,258.7 427,255.5 426.1,252.7 437.6,242.6 436.5,241.8 428.9,252.1 425.1,257.4 421.4,258.9 423.1,255.9 433.2,247.3 423,255.6 424.1,255.5 424.4,252.3 417.7,255.1 436.3,234 421.8,260 425.1,259.2 421.3,253.6 418.9,260.2 417.5,261.4 421.8,259.4 418.7,260.1 423.4,255.6 423,254.2 438.7,248 420.8,258.4 418.3,255.1 418.8,259.3 417.8,261.1 419,255.9 418.8,262.1 436.5,245.7 419.8,262.2 422.1,254.8 418.5,260 418.9,261.3 421.6,259.6 421.4,261.2 420.5,255.8 425.5,256.6 419,255.1 424.6,258.9 430.1,247.1 418,257.5 438.1,253.4 421.8,262.2 418.6,258.7 426,253.2 424.5,249.7 419.5,256 424.6,256.6 421.4,259.2 423.2,256.8 420.8,255.5 420.8,254.9 440.9,236.8 418.2,262.2 418.9,261.9 425.6,253.4 429.1,244.9 427.7,257 432.5,249.6 426.4,257.1 422.7,259.7 418.8,257.6 432.6,247.5 422.9,259.5 430.3,248.1 423.4,258.5 430.9,254.5 438.8,244.6 427.2,256.1 429,237.6 423,260.6 419.9,259.9 417.7,257.8 436.6,246.9 420.9,258.7 432.2,248.3 419.9,259.9 430.9,248.8 422.1,260.2 417.6,257.9 435.1,243.4 424,257.1 419.5,261.2 422.1,256.1 434.4,253.9 422.3,259.2 418.8,260.6 440.5,233 437,235.7 425.4,258.1 420.4,257.4 422.6,254 439.1,239.4 428.8,253.9 438,255.7 420.4,258.6 420.9,253.8 438.8,251.9 421.4,259 425.3,251.3 418.4,255.9 422.2,254.5 432.9,248.6 425,255.7 429.9,255.2 425.9,254.2 423.2,257 425,254.1 424.4,257.1 419.1,260.2 420.6,256.8 448.4,243.3 418.3,257.8 421,262 436.2,252.5 422.3,251.7 417.6,258.3 419.8,260 423.1,255.4 419.4,259.5 433.9,240.1 421.7,258.9 428.3,254.5 417.5,260.3 445.4,246.6 421.7,261.7 434.4,242.9 429.5,247.8 428.9,252.8 422.3,256 429.8,239.5 423.9,255.3 424.8,249.7 420.6,259.1 420.1,257.7 425.6,253.1 429.7,242.5 424.9,257.7 422.5,253.4 422.1,259.9 421.3,256.9 426.9,252.7 424.1,261.5 444.2,250.2 417.9,260.9 426.2,256.1 421.9,255.7 424.2,258.9 420.9,258.4 418.9,259.2 423.3,251.4 426.1,253.2 421.4,258.6 417.9,261.8 425,252 427.1,252.4 417.5,260.2 425.8,257.2 427.3,253.8 417.7,261.6 425.9,250.2 422.1,260.3 424.4,251.7 434.7,243 417.9,259.1 417.4,260.2 431.7,248.7 418,257.1 435.6,244.1 424.8,256.4 424.3,255 418.1,257.5 417.9,260.3 420,258.9 419.5,256.5 431.4,256 419.1,257.2 422.5,251.6 425.2,260 427.2,247.8 421.5,252.7 420,259.5 418.1,253.7 419.7,257.5 420.4,262 430.3,252.9 422.1,254.8 435.5,251.3 421.9,255.7 421.2,257.9 437.5,234.7 423.5,257.5 434.8,247.9 430.8,249.4 430.6,254.1 418.4,261.4 426.7,255 425,254.2 420.4,252.6 440.7,239.4 426.8,252.9 420.1,258.8 419.4,257.4 424.7,253.5 418.2,261.3 429.4,241.4 422.7,256.6 421.7,258.2 423.5,248.3 423,254.9 421.5,255.5 423,250.2 419.2,258.1 431.7,246.7 420.4,259.8 418.4,256.3 426.3,250.8 418.3,258.4 421.3,260 426.6,253.4 417.7,260 436.7,236.1 417.7,260 422.5,259.7 422.3,253.7 418.5,261.5 417.5,260.2 439.2,240.3 424.7,250.4 421.2,258.4 423.3,253 427,256 418.5,259 417.5,261.6 422.7,260.6 424.7,256.8 425.7,255.3 427.6,257.9" fill="none" stroke="none" marker-start="url(#c2)" marker-mid="url(#c2)" marker-end="url(#c2)"/></g>
<path d="M417.2 262.2L540.2 149.4" stroke="#222" stroke-width="0.9"/>
<rect x="417.2" y="149.4" width="123.1" height="112.8" fill="none" stroke="#555" stroke-width="1.05"/>
<text x="413.6" y="264.2" font-size="9.2" text-anchor="end" textLength="3.9" lengthAdjust="spacingAndGlyphs">0</text>
<text x="417.2" y="273.8" font-size="9.3" text-anchor="middle">0</text>
<text x="413.6" y="241.7" font-size="9.2" text-anchor="end" textLength="11.7" lengthAdjust="spacingAndGlyphs">100</text>
<text x="441.8" y="273.8" font-size="9.3" text-anchor="middle">100</text>
<text x="413.6" y="219.1" font-size="9.2" text-anchor="end" textLength="11.7" lengthAdjust="spacingAndGlyphs">200</text>
<text x="466.4" y="273.8" font-size="9.3" text-anchor="middle">200</text>
<text x="413.6" y="196.5" font-size="9.2" text-anchor="end" textLength="11.7" lengthAdjust="spacingAndGlyphs">300</text>
<text x="491" y="273.8" font-size="9.3" text-anchor="middle">300</text>
<text x="413.6" y="174" font-size="9.2" text-anchor="end" textLength="11.7" lengthAdjust="spacingAndGlyphs">400</text>
<text x="515.6" y="273.8" font-size="9.3" text-anchor="middle">400</text>
<text x="413.6" y="151.4" font-size="9.2" text-anchor="end" textLength="11.7" lengthAdjust="spacingAndGlyphs">500</text>
<text x="540.2" y="273.8" font-size="9.3" text-anchor="middle">500</text>
<path d="M417.2 239.7h3.3M441.8 262.2v-3.3M417.2 217.1h3.3M466.4 262.2v-3.3M417.2 194.5h3.3M491 262.2v-3.3M417.2 172h3.3M515.6 262.2v-3.3" stroke="#555" stroke-width="0.85" fill="none"/>
<text x="431.7" y="283.6" font-size="10.5" font-weight="bold" fill="#000" stroke="#000" lengthAdjust="spacingAndGlyphs" textLength="93.6">Observation/(m<tspan font-size="6.8" dy="-3.8">3</tspan><tspan dy="3.8">·s</tspan><tspan font-size="6.8" dy="-3.8">−1</tspan><tspan dy="3.8">)</tspan></text>
</svg>
</body></html>
